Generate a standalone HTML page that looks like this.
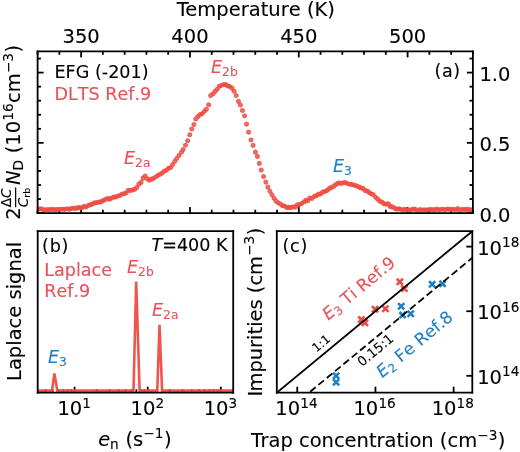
<!DOCTYPE html>
<html><head><meta charset="utf-8"><title>figure</title>
<style>html,body{margin:0;padding:0;background:#fff;width:520px;height:452px;overflow:hidden}svg{display:block}text{font-kerning:none;stroke:#000;stroke-width:0.08}</style>
</head><body>
<svg width="520" height="452" viewBox="0 0 374.4 325.44"> <defs> <style type="text/css">*{stroke-linejoin: round; stroke-linecap: butt}</style> </defs> <g id="figure_1"> <g id="patch_1"> <path d="M 0 325.44  L 374.4 325.44  L 374.4 0  L 0 0  z " style="fill: #ffffff"/> </g> <g id="axes_1"> <g id="patch_2"> <path d="M 27.072 153.432  L 340.488 153.432  L 340.488 37.008  L 27.072 37.008  z " style="fill: #ffffff"/> </g> <g id="matplotlib.axis_1"> <g id="xtick_1"> <g id="line2d_1"> <defs> <path id="mc10e1f5a09" d="M 0 0  L 0 -4.32  " style="stroke: #000000; stroke-width: 1.296"/> </defs> <g> <use href="#mc10e1f5a09" x="58.4136" y="153.432" style="stroke: #000000; stroke-width: 1.296"/> </g> </g> <g id="line2d_2"> <defs> <path id="m5bdeafda6d" d="M 0 0  L 0 4.32  " style="stroke: #000000; stroke-width: 1.296"/> </defs> <g> <use href="#m5bdeafda6d" x="58.4136" y="37.008" style="stroke: #000000; stroke-width: 1.296"/> </g> </g> <g id="text_1"> <text style="font-size: 14.04px; font-family: 'DejaVu Sans', 'Liberation Sans', sans-serif; text-anchor: middle" x="58.4136" y="31.092119" transform="rotate(-0 58.4136 31.092119)">350</text> </g> </g> <g id="xtick_2"> <g id="line2d_3"> <g> <use href="#mc10e1f5a09" x="136.7676" y="153.432" style="stroke: #000000; stroke-width: 1.296"/> </g> </g> <g id="line2d_4"> <g> <use href="#m5bdeafda6d" x="136.7676" y="37.008" style="stroke: #000000; stroke-width: 1.296"/> </g> </g> <g id="text_2"> <text style="font-size: 14.04px; font-family: 'DejaVu Sans', 'Liberation Sans', sans-serif; text-anchor: middle" x="136.7676" y="31.092119" transform="rotate(-0 136.7676 31.092119)">400</text> </g> </g> <g id="xtick_3"> <g id="line2d_5"> <g> <use href="#mc10e1f5a09" x="215.1216" y="153.432" style="stroke: #000000; stroke-width: 1.296"/> </g> </g> <g id="line2d_6"> <g> <use href="#m5bdeafda6d" x="215.1216" y="37.008" style="stroke: #000000; stroke-width: 1.296"/> </g> </g> <g id="text_3"> <text style="font-size: 14.04px; font-family: 'DejaVu Sans', 'Liberation Sans', sans-serif; text-anchor: middle" x="215.1216" y="31.092119" transform="rotate(-0 215.1216 31.092119)">450</text> </g> </g> <g id="xtick_4"> <g id="line2d_7"> <g> <use href="#mc10e1f5a09" x="293.4756" y="153.432" style="stroke: #000000; stroke-width: 1.296"/> </g> </g> <g id="line2d_8"> <g> <use href="#m5bdeafda6d" x="293.4756" y="37.008" style="stroke: #000000; stroke-width: 1.296"/> </g> </g> <g id="text_4"> <text style="font-size: 14.04px; font-family: 'DejaVu Sans', 'Liberation Sans', sans-serif; text-anchor: middle" x="293.4756" y="31.092119" transform="rotate(-0 293.4756 31.092119)">500</text> </g> </g> <g id="xtick_5"> <g id="line2d_9"> <defs> <path id="m43085beaf9" d="M 0 0  L 0 -2.448  " style="stroke: #000000; stroke-width: 1.296"/> </defs> <g> <use href="#m43085beaf9" x="27.072" y="153.432" style="stroke: #000000; stroke-width: 1.296"/> </g> </g> <g id="line2d_10"> <defs> <path id="m57a300a114" d="M 0 0  L 0 2.448  " style="stroke: #000000; stroke-width: 1.296"/> </defs> <g> <use href="#m57a300a114" x="27.072" y="37.008" style="stroke: #000000; stroke-width: 1.296"/> </g> </g> </g> <g id="xtick_6"> <g id="line2d_11"> <g> <use href="#m43085beaf9" x="42.7428" y="153.432" style="stroke: #000000; stroke-width: 1.296"/> </g> </g> <g id="line2d_12"> <g> <use href="#m57a300a114" x="42.7428" y="37.008" style="stroke: #000000; stroke-width: 1.296"/> </g> </g> </g> <g id="xtick_7"> <g id="line2d_13"> <g> <use href="#m43085beaf9" x="74.0844" y="153.432" style="stroke: #000000; stroke-width: 1.296"/> </g> </g> <g id="line2d_14"> <g> <use href="#m57a300a114" x="74.0844" y="37.008" style="stroke: #000000; stroke-width: 1.296"/> </g> </g> </g> <g id="xtick_8"> <g id="line2d_15"> <g> <use href="#m43085beaf9" x="89.7552" y="153.432" style="stroke: #000000; stroke-width: 1.296"/> </g> </g> <g id="line2d_16"> <g> <use href="#m57a300a114" x="89.7552" y="37.008" style="stroke: #000000; stroke-width: 1.296"/> </g> </g> </g> <g id="xtick_9"> <g id="line2d_17"> <g> <use href="#m43085beaf9" x="105.426" y="153.432" style="stroke: #000000; stroke-width: 1.296"/> </g> </g> <g id="line2d_18"> <g> <use href="#m57a300a114" x="105.426" y="37.008" style="stroke: #000000; stroke-width: 1.296"/> </g> </g> </g> <g id="xtick_10"> <g id="line2d_19"> <g> <use href="#m43085beaf9" x="121.0968" y="153.432" style="stroke: #000000; stroke-width: 1.296"/> </g> </g> <g id="line2d_20"> <g> <use href="#m57a300a114" x="121.0968" y="37.008" style="stroke: #000000; stroke-width: 1.296"/> </g> </g> </g> <g id="xtick_11"> <g id="line2d_21"> <g> <use href="#m43085beaf9" x="152.4384" y="153.432" style="stroke: #000000; stroke-width: 1.296"/> </g> </g> <g id="line2d_22"> <g> <use href="#m57a300a114" x="152.4384" y="37.008" style="stroke: #000000; stroke-width: 1.296"/> </g> </g> </g> <g id="xtick_12"> <g id="line2d_23"> <g> <use href="#m43085beaf9" x="168.1092" y="153.432" style="stroke: #000000; stroke-width: 1.296"/> </g> </g> <g id="line2d_24"> <g> <use href="#m57a300a114" x="168.1092" y="37.008" style="stroke: #000000; stroke-width: 1.296"/> </g> </g> </g> <g id="xtick_13"> <g id="line2d_25"> <g> <use href="#m43085beaf9" x="183.78" y="153.432" style="stroke: #000000; stroke-width: 1.296"/> </g> </g> <g id="line2d_26"> <g> <use href="#m57a300a114" x="183.78" y="37.008" style="stroke: #000000; stroke-width: 1.296"/> </g> </g> </g> <g id="xtick_14"> <g id="line2d_27"> <g> <use href="#m43085beaf9" x="199.4508" y="153.432" style="stroke: #000000; stroke-width: 1.296"/> </g> </g> <g id="line2d_28"> <g> <use href="#m57a300a114" x="199.4508" y="37.008" style="stroke: #000000; stroke-width: 1.296"/> </g> </g> </g> <g id="xtick_15"> <g id="line2d_29"> <g> <use href="#m43085beaf9" x="230.7924" y="153.432" style="stroke: #000000; stroke-width: 1.296"/> </g> </g> <g id="line2d_30"> <g> <use href="#m57a300a114" x="230.7924" y="37.008" style="stroke: #000000; stroke-width: 1.296"/> </g> </g> </g> <g id="xtick_16"> <g id="line2d_31"> <g> <use href="#m43085beaf9" x="246.4632" y="153.432" style="stroke: #000000; stroke-width: 1.296"/> </g> </g> <g id="line2d_32"> <g> <use href="#m57a300a114" x="246.4632" y="37.008" style="stroke: #000000; stroke-width: 1.296"/> </g> </g> </g> <g id="xtick_17"> <g id="line2d_33"> <g> <use href="#m43085beaf9" x="262.134" y="153.432" style="stroke: #000000; stroke-width: 1.296"/> </g> </g> <g id="line2d_34"> <g> <use href="#m57a300a114" x="262.134" y="37.008" style="stroke: #000000; stroke-width: 1.296"/> </g> </g> </g> <g id="xtick_18"> <g id="line2d_35"> <g> <use href="#m43085beaf9" x="277.8048" y="153.432" style="stroke: #000000; stroke-width: 1.296"/> </g> </g> <g id="line2d_36"> <g> <use href="#m57a300a114" x="277.8048" y="37.008" style="stroke: #000000; stroke-width: 1.296"/> </g> </g> </g> <g id="xtick_19"> <g id="line2d_37"> <g> <use href="#m43085beaf9" x="309.1464" y="153.432" style="stroke: #000000; stroke-width: 1.296"/> </g> </g> <g id="line2d_38"> <g> <use href="#m57a300a114" x="309.1464" y="37.008" style="stroke: #000000; stroke-width: 1.296"/> </g> </g> </g> <g id="xtick_20"> <g id="line2d_39"> <g> <use href="#m43085beaf9" x="324.8172" y="153.432" style="stroke: #000000; stroke-width: 1.296"/> </g> </g> <g id="line2d_40"> <g> <use href="#m57a300a114" x="324.8172" y="37.008" style="stroke: #000000; stroke-width: 1.296"/> </g> </g> </g> <g id="xtick_21"> <g id="line2d_41"> <g> <use href="#m43085beaf9" x="340.488" y="153.432" style="stroke: #000000; stroke-width: 1.296"/> </g> </g> <g id="line2d_42"> <g> <use href="#m57a300a114" x="340.488" y="37.008" style="stroke: #000000; stroke-width: 1.296"/> </g> </g> </g> </g> <g id="matplotlib.axis_2"> <g id="ytick_1"> <g id="line2d_43"> <defs> <path id="m8a6a76ca5c" d="M 0 0  L 4.32 0  " style="stroke: #000000; stroke-width: 1.296"/> </defs> <g> <use href="#m8a6a76ca5c" x="27.072" y="153.432" style="stroke: #000000; stroke-width: 1.296"/> </g> </g> <g id="line2d_44"> <defs> <path id="m3e80957352" d="M 0 0  L -4.32 0  " style="stroke: #000000; stroke-width: 1.296"/> </defs> <g> <use href="#m3e80957352" x="340.488" y="153.432" style="stroke: #000000; stroke-width: 1.296"/> </g> </g> <g id="text_5"> <text style="font-size: 14.04px; font-family: 'DejaVu Sans', 'Liberation Sans', sans-serif; text-anchor: start" x="345.212" y="159.486103" transform="rotate(-0 345.212 159.486103)">0.0</text> </g> </g> <g id="ytick_2"> <g id="line2d_45"> <g> <use href="#m8a6a76ca5c" x="27.072" y="102.852" style="stroke: #000000; stroke-width: 1.296"/> </g> </g> <g id="line2d_46"> <g> <use href="#m3e80957352" x="340.488" y="102.852" style="stroke: #000000; stroke-width: 1.296"/> </g> </g> <g id="text_6"> <text style="font-size: 14.04px; font-family: 'DejaVu Sans', 'Liberation Sans', sans-serif; text-anchor: start" x="345.212" y="108.906103" transform="rotate(-0 345.212 108.906103)">0.5</text> </g> </g> <g id="ytick_3"> <g id="line2d_47"> <g> <use href="#m8a6a76ca5c" x="27.072" y="52.272" style="stroke: #000000; stroke-width: 1.296"/> </g> </g> <g id="line2d_48"> <g> <use href="#m3e80957352" x="340.488" y="52.272" style="stroke: #000000; stroke-width: 1.296"/> </g> </g> <g id="text_7"> <text style="font-size: 14.04px; font-family: 'DejaVu Sans', 'Liberation Sans', sans-serif; text-anchor: start" x="345.212" y="58.326103" transform="rotate(-0 345.212 58.326103)">1.0</text> </g> </g> <g id="ytick_4"> <g id="line2d_49"> <defs> <path id="m8aa99f4df7" d="M 0 0  L 2.448 0  " style="stroke: #000000; stroke-width: 1.296"/> </defs> <g> <use href="#m8aa99f4df7" x="27.072" y="143.316" style="stroke: #000000; stroke-width: 1.296"/> </g> </g> <g id="line2d_50"> <defs> <path id="m9ff99c0e5c" d="M 0 0  L -2.448 0  " style="stroke: #000000; stroke-width: 1.296"/> </defs> <g> <use href="#m9ff99c0e5c" x="340.488" y="143.316" style="stroke: #000000; stroke-width: 1.296"/> </g> </g> </g> <g id="ytick_5"> <g id="line2d_51"> <g> <use href="#m8aa99f4df7" x="27.072" y="133.2" style="stroke: #000000; stroke-width: 1.296"/> </g> </g> <g id="line2d_52"> <g> <use href="#m9ff99c0e5c" x="340.488" y="133.2" style="stroke: #000000; stroke-width: 1.296"/> </g> </g> </g> <g id="ytick_6"> <g id="line2d_53"> <g> <use href="#m8aa99f4df7" x="27.072" y="123.084" style="stroke: #000000; stroke-width: 1.296"/> </g> </g> <g id="line2d_54"> <g> <use href="#m9ff99c0e5c" x="340.488" y="123.084" style="stroke: #000000; stroke-width: 1.296"/> </g> </g> </g> <g id="ytick_7"> <g id="line2d_55"> <g> <use href="#m8aa99f4df7" x="27.072" y="112.968" style="stroke: #000000; stroke-width: 1.296"/> </g> </g> <g id="line2d_56"> <g> <use href="#m9ff99c0e5c" x="340.488" y="112.968" style="stroke: #000000; stroke-width: 1.296"/> </g> </g> </g> <g id="ytick_8"> <g id="line2d_57"> <g> <use href="#m8aa99f4df7" x="27.072" y="92.736" style="stroke: #000000; stroke-width: 1.296"/> </g> </g> <g id="line2d_58"> <g> <use href="#m9ff99c0e5c" x="340.488" y="92.736" style="stroke: #000000; stroke-width: 1.296"/> </g> </g> </g> <g id="ytick_9"> <g id="line2d_59"> <g> <use href="#m8aa99f4df7" x="27.072" y="82.62" style="stroke: #000000; stroke-width: 1.296"/> </g> </g> <g id="line2d_60"> <g> <use href="#m9ff99c0e5c" x="340.488" y="82.62" style="stroke: #000000; stroke-width: 1.296"/> </g> </g> </g> <g id="ytick_10"> <g id="line2d_61"> <g> <use href="#m8aa99f4df7" x="27.072" y="72.504" style="stroke: #000000; stroke-width: 1.296"/> </g> </g> <g id="line2d_62"> <g> <use href="#m9ff99c0e5c" x="340.488" y="72.504" style="stroke: #000000; stroke-width: 1.296"/> </g> </g> </g> <g id="ytick_11"> <g id="line2d_63"> <g> <use href="#m8aa99f4df7" x="27.072" y="62.388" style="stroke: #000000; stroke-width: 1.296"/> </g> </g> <g id="line2d_64"> <g> <use href="#m9ff99c0e5c" x="340.488" y="62.388" style="stroke: #000000; stroke-width: 1.296"/> </g> </g> </g> <g id="ytick_12"> <g id="line2d_65"> <g> <use href="#m8aa99f4df7" x="27.072" y="42.156" style="stroke: #000000; stroke-width: 1.296"/> </g> </g> <g id="line2d_66"> <g> <use href="#m9ff99c0e5c" x="340.488" y="42.156" style="stroke: #000000; stroke-width: 1.296"/> </g> </g> </g> </g> <g id="line2d_67"> <defs> <path id="m4eb67e18cb" d="M 0 1.44  C 0.381892 1.44 0.748195 1.288273 1.018234 1.018234  C 1.288273 0.748195 1.44 0.381892 1.44 0  C 1.44 -0.381892 1.288273 -0.748195 1.018234 -1.018234  C 0.748195 -1.288273 0.381892 -1.44 0 -1.44  C -0.381892 -1.44 -0.748195 -1.288273 -1.018234 -1.018234  C -1.288273 -0.748195 -1.44 -0.381892 -1.44 0  C -1.44 0.381892 -1.288273 0.748195 -1.018234 1.018234  C -0.748195 1.288273 -0.381892 1.44 0 1.44  z " style="stroke: #ef4b42; stroke-opacity: 0.8; stroke-width: 0.792"/> </defs> <g clip-path="url(#pd31f650294)"> <use href="#m4eb67e18cb" x="27.129229" y="150.285194" style="fill: #ef4b42; fill-opacity: 0.8; stroke: #ef4b42; stroke-opacity: 0.8; stroke-width: 0.792"/> <use href="#m4eb67e18cb" x="28.708476" y="150.448566" style="fill: #ef4b42; fill-opacity: 0.8; stroke: #ef4b42; stroke-opacity: 0.8; stroke-width: 0.792"/> <use href="#m4eb67e18cb" x="30.071619" y="150.396785" style="fill: #ef4b42; fill-opacity: 0.8; stroke: #ef4b42; stroke-opacity: 0.8; stroke-width: 0.792"/> <use href="#m4eb67e18cb" x="31.674399" y="151.265736" style="fill: #ef4b42; fill-opacity: 0.8; stroke: #ef4b42; stroke-opacity: 0.8; stroke-width: 0.792"/> <use href="#m4eb67e18cb" x="33.338181" y="150.94333" style="fill: #ef4b42; fill-opacity: 0.8; stroke: #ef4b42; stroke-opacity: 0.8; stroke-width: 0.792"/> <use href="#m4eb67e18cb" x="34.859508" y="151.006448" style="fill: #ef4b42; fill-opacity: 0.8; stroke: #ef4b42; stroke-opacity: 0.8; stroke-width: 0.792"/> <use href="#m4eb67e18cb" x="36.089713" y="150.903627" style="fill: #ef4b42; fill-opacity: 0.8; stroke: #ef4b42; stroke-opacity: 0.8; stroke-width: 0.792"/> <use href="#m4eb67e18cb" x="37.640491" y="150.631808" style="fill: #ef4b42; fill-opacity: 0.8; stroke: #ef4b42; stroke-opacity: 0.8; stroke-width: 0.792"/> <use href="#m4eb67e18cb" x="39.101972" y="150.949137" style="fill: #ef4b42; fill-opacity: 0.8; stroke: #ef4b42; stroke-opacity: 0.8; stroke-width: 0.792"/> <use href="#m4eb67e18cb" x="40.768471" y="150.940226" style="fill: #ef4b42; fill-opacity: 0.8; stroke: #ef4b42; stroke-opacity: 0.8; stroke-width: 0.792"/> <use href="#m4eb67e18cb" x="42.133987" y="150.695387" style="fill: #ef4b42; fill-opacity: 0.8; stroke: #ef4b42; stroke-opacity: 0.8; stroke-width: 0.792"/> <use href="#m4eb67e18cb" x="43.814633" y="150.644712" style="fill: #ef4b42; fill-opacity: 0.8; stroke: #ef4b42; stroke-opacity: 0.8; stroke-width: 0.792"/> <use href="#m4eb67e18cb" x="45.407028" y="150.614247" style="fill: #ef4b42; fill-opacity: 0.8; stroke: #ef4b42; stroke-opacity: 0.8; stroke-width: 0.792"/> <use href="#m4eb67e18cb" x="46.787692" y="150.698926" style="fill: #ef4b42; fill-opacity: 0.8; stroke: #ef4b42; stroke-opacity: 0.8; stroke-width: 0.792"/> <use href="#m4eb67e18cb" x="48.45736" y="150.325407" style="fill: #ef4b42; fill-opacity: 0.8; stroke: #ef4b42; stroke-opacity: 0.8; stroke-width: 0.792"/> <use href="#m4eb67e18cb" x="49.945311" y="150.666284" style="fill: #ef4b42; fill-opacity: 0.8; stroke: #ef4b42; stroke-opacity: 0.8; stroke-width: 0.792"/> <use href="#m4eb67e18cb" x="51.252176" y="150.195418" style="fill: #ef4b42; fill-opacity: 0.8; stroke: #ef4b42; stroke-opacity: 0.8; stroke-width: 0.792"/> <use href="#m4eb67e18cb" x="52.973408" y="149.763791" style="fill: #ef4b42; fill-opacity: 0.8; stroke: #ef4b42; stroke-opacity: 0.8; stroke-width: 0.792"/> <use href="#m4eb67e18cb" x="54.380796" y="150.307322" style="fill: #ef4b42; fill-opacity: 0.8; stroke: #ef4b42; stroke-opacity: 0.8; stroke-width: 0.792"/> <use href="#m4eb67e18cb" x="55.959478" y="149.378374" style="fill: #ef4b42; fill-opacity: 0.8; stroke: #ef4b42; stroke-opacity: 0.8; stroke-width: 0.792"/> <use href="#m4eb67e18cb" x="57.43006" y="149.666694" style="fill: #ef4b42; fill-opacity: 0.8; stroke: #ef4b42; stroke-opacity: 0.8; stroke-width: 0.792"/> <use href="#m4eb67e18cb" x="59.104183" y="149.489992" style="fill: #ef4b42; fill-opacity: 0.8; stroke: #ef4b42; stroke-opacity: 0.8; stroke-width: 0.792"/> <use href="#m4eb67e18cb" x="60.529216" y="148.539192" style="fill: #ef4b42; fill-opacity: 0.8; stroke: #ef4b42; stroke-opacity: 0.8; stroke-width: 0.792"/> <use href="#m4eb67e18cb" x="61.942627" y="149.017338" style="fill: #ef4b42; fill-opacity: 0.8; stroke: #ef4b42; stroke-opacity: 0.8; stroke-width: 0.792"/> <use href="#m4eb67e18cb" x="63.608539" y="147.986303" style="fill: #ef4b42; fill-opacity: 0.8; stroke: #ef4b42; stroke-opacity: 0.8; stroke-width: 0.792"/> <use href="#m4eb67e18cb" x="65.21724" y="147.331831" style="fill: #ef4b42; fill-opacity: 0.8; stroke: #ef4b42; stroke-opacity: 0.8; stroke-width: 0.792"/> <use href="#m4eb67e18cb" x="66.559055" y="146.883785" style="fill: #ef4b42; fill-opacity: 0.8; stroke: #ef4b42; stroke-opacity: 0.8; stroke-width: 0.792"/> <use href="#m4eb67e18cb" x="68.047378" y="146.094054" style="fill: #ef4b42; fill-opacity: 0.8; stroke: #ef4b42; stroke-opacity: 0.8; stroke-width: 0.792"/> <use href="#m4eb67e18cb" x="69.629883" y="145.784583" style="fill: #ef4b42; fill-opacity: 0.8; stroke: #ef4b42; stroke-opacity: 0.8; stroke-width: 0.792"/> <use href="#m4eb67e18cb" x="71.356208" y="145.559092" style="fill: #ef4b42; fill-opacity: 0.8; stroke: #ef4b42; stroke-opacity: 0.8; stroke-width: 0.792"/> <use href="#m4eb67e18cb" x="72.891173" y="145.136428" style="fill: #ef4b42; fill-opacity: 0.8; stroke: #ef4b42; stroke-opacity: 0.8; stroke-width: 0.792"/> <use href="#m4eb67e18cb" x="74.297053" y="144.483955" style="fill: #ef4b42; fill-opacity: 0.8; stroke: #ef4b42; stroke-opacity: 0.8; stroke-width: 0.792"/> <use href="#m4eb67e18cb" x="75.903793" y="143.660115" style="fill: #ef4b42; fill-opacity: 0.8; stroke: #ef4b42; stroke-opacity: 0.8; stroke-width: 0.792"/> <use href="#m4eb67e18cb" x="77.402391" y="142.958198" style="fill: #ef4b42; fill-opacity: 0.8; stroke: #ef4b42; stroke-opacity: 0.8; stroke-width: 0.792"/> <use href="#m4eb67e18cb" x="78.746536" y="143.334873" style="fill: #ef4b42; fill-opacity: 0.8; stroke: #ef4b42; stroke-opacity: 0.8; stroke-width: 0.792"/> <use href="#m4eb67e18cb" x="80.159123" y="142.765681" style="fill: #ef4b42; fill-opacity: 0.8; stroke: #ef4b42; stroke-opacity: 0.8; stroke-width: 0.792"/> <use href="#m4eb67e18cb" x="81.890255" y="141.899208" style="fill: #ef4b42; fill-opacity: 0.8; stroke: #ef4b42; stroke-opacity: 0.8; stroke-width: 0.792"/> <use href="#m4eb67e18cb" x="83.374379" y="141.859473" style="fill: #ef4b42; fill-opacity: 0.8; stroke: #ef4b42; stroke-opacity: 0.8; stroke-width: 0.792"/> <use href="#m4eb67e18cb" x="84.820627" y="141.102708" style="fill: #ef4b42; fill-opacity: 0.8; stroke: #ef4b42; stroke-opacity: 0.8; stroke-width: 0.792"/> <use href="#m4eb67e18cb" x="86.289354" y="140.743441" style="fill: #ef4b42; fill-opacity: 0.8; stroke: #ef4b42; stroke-opacity: 0.8; stroke-width: 0.792"/> <use href="#m4eb67e18cb" x="87.87767" y="139.648674" style="fill: #ef4b42; fill-opacity: 0.8; stroke: #ef4b42; stroke-opacity: 0.8; stroke-width: 0.792"/> <use href="#m4eb67e18cb" x="89.421214" y="139.550589" style="fill: #ef4b42; fill-opacity: 0.8; stroke: #ef4b42; stroke-opacity: 0.8; stroke-width: 0.792"/> <use href="#m4eb67e18cb" x="90.866173" y="138.759408" style="fill: #ef4b42; fill-opacity: 0.8; stroke: #ef4b42; stroke-opacity: 0.8; stroke-width: 0.792"/> <use href="#m4eb67e18cb" x="92.394724" y="136.981511" style="fill: #ef4b42; fill-opacity: 0.8; stroke: #ef4b42; stroke-opacity: 0.8; stroke-width: 0.792"/> <use href="#m4eb67e18cb" x="93.977184" y="137.177129" style="fill: #ef4b42; fill-opacity: 0.8; stroke: #ef4b42; stroke-opacity: 0.8; stroke-width: 0.792"/> <use href="#m4eb67e18cb" x="95.648763" y="136.70366" style="fill: #ef4b42; fill-opacity: 0.8; stroke: #ef4b42; stroke-opacity: 0.8; stroke-width: 0.792"/> <use href="#m4eb67e18cb" x="97.065673" y="136.280139" style="fill: #ef4b42; fill-opacity: 0.8; stroke: #ef4b42; stroke-opacity: 0.8; stroke-width: 0.792"/> <use href="#m4eb67e18cb" x="98.471871" y="135.01415" style="fill: #ef4b42; fill-opacity: 0.8; stroke: #ef4b42; stroke-opacity: 0.8; stroke-width: 0.792"/> <use href="#m4eb67e18cb" x="99.989866" y="132.561883" style="fill: #ef4b42; fill-opacity: 0.8; stroke: #ef4b42; stroke-opacity: 0.8; stroke-width: 0.792"/> <use href="#m4eb67e18cb" x="101.57637" y="131.276888" style="fill: #ef4b42; fill-opacity: 0.8; stroke: #ef4b42; stroke-opacity: 0.8; stroke-width: 0.792"/> <use href="#m4eb67e18cb" x="103.002709" y="128.227671" style="fill: #ef4b42; fill-opacity: 0.8; stroke: #ef4b42; stroke-opacity: 0.8; stroke-width: 0.792"/> <use href="#m4eb67e18cb" x="104.52126" y="126.669124" style="fill: #ef4b42; fill-opacity: 0.8; stroke: #ef4b42; stroke-opacity: 0.8; stroke-width: 0.792"/> <use href="#m4eb67e18cb" x="106.158918" y="128.778474" style="fill: #ef4b42; fill-opacity: 0.8; stroke: #ef4b42; stroke-opacity: 0.8; stroke-width: 0.792"/> <use href="#m4eb67e18cb" x="107.518464" y="129.821111" style="fill: #ef4b42; fill-opacity: 0.8; stroke: #ef4b42; stroke-opacity: 0.8; stroke-width: 0.792"/> <use href="#m4eb67e18cb" x="109.187601" y="128.9655" style="fill: #ef4b42; fill-opacity: 0.8; stroke: #ef4b42; stroke-opacity: 0.8; stroke-width: 0.792"/> <use href="#m4eb67e18cb" x="110.662007" y="128.295976" style="fill: #ef4b42; fill-opacity: 0.8; stroke: #ef4b42; stroke-opacity: 0.8; stroke-width: 0.792"/> <use href="#m4eb67e18cb" x="112.31202" y="127.291281" style="fill: #ef4b42; fill-opacity: 0.8; stroke: #ef4b42; stroke-opacity: 0.8; stroke-width: 0.792"/> <use href="#m4eb67e18cb" x="113.846778" y="126.136397" style="fill: #ef4b42; fill-opacity: 0.8; stroke: #ef4b42; stroke-opacity: 0.8; stroke-width: 0.792"/> <use href="#m4eb67e18cb" x="115.345915" y="125.424165" style="fill: #ef4b42; fill-opacity: 0.8; stroke: #ef4b42; stroke-opacity: 0.8; stroke-width: 0.792"/> <use href="#m4eb67e18cb" x="116.865263" y="124.568225" style="fill: #ef4b42; fill-opacity: 0.8; stroke: #ef4b42; stroke-opacity: 0.8; stroke-width: 0.792"/> <use href="#m4eb67e18cb" x="118.266641" y="123.089244" style="fill: #ef4b42; fill-opacity: 0.8; stroke: #ef4b42; stroke-opacity: 0.8; stroke-width: 0.792"/> <use href="#m4eb67e18cb" x="119.897483" y="122.531538" style="fill: #ef4b42; fill-opacity: 0.8; stroke: #ef4b42; stroke-opacity: 0.8; stroke-width: 0.792"/> <use href="#m4eb67e18cb" x="121.294082" y="121.165209" style="fill: #ef4b42; fill-opacity: 0.8; stroke: #ef4b42; stroke-opacity: 0.8; stroke-width: 0.792"/> <use href="#m4eb67e18cb" x="122.901761" y="120.649012" style="fill: #ef4b42; fill-opacity: 0.8; stroke: #ef4b42; stroke-opacity: 0.8; stroke-width: 0.792"/> <use href="#m4eb67e18cb" x="124.328937" y="118.416134" style="fill: #ef4b42; fill-opacity: 0.8; stroke: #ef4b42; stroke-opacity: 0.8; stroke-width: 0.792"/> <use href="#m4eb67e18cb" x="125.893887" y="116.131543" style="fill: #ef4b42; fill-opacity: 0.8; stroke: #ef4b42; stroke-opacity: 0.8; stroke-width: 0.792"/> <use href="#m4eb67e18cb" x="127.269677" y="114.07803" style="fill: #ef4b42; fill-opacity: 0.8; stroke: #ef4b42; stroke-opacity: 0.8; stroke-width: 0.792"/> <use href="#m4eb67e18cb" x="128.857874" y="111.920252" style="fill: #ef4b42; fill-opacity: 0.8; stroke: #ef4b42; stroke-opacity: 0.8; stroke-width: 0.792"/> <use href="#m4eb67e18cb" x="130.65209" y="109.589524" style="fill: #ef4b42; fill-opacity: 0.8; stroke: #ef4b42; stroke-opacity: 0.8; stroke-width: 0.792"/> <use href="#m4eb67e18cb" x="131.893461" y="107.678395" style="fill: #ef4b42; fill-opacity: 0.8; stroke: #ef4b42; stroke-opacity: 0.8; stroke-width: 0.792"/> <use href="#m4eb67e18cb" x="133.586871" y="104.530436" style="fill: #ef4b42; fill-opacity: 0.8; stroke: #ef4b42; stroke-opacity: 0.8; stroke-width: 0.792"/> <use href="#m4eb67e18cb" x="135.091518" y="101.33611" style="fill: #ef4b42; fill-opacity: 0.8; stroke: #ef4b42; stroke-opacity: 0.8; stroke-width: 0.792"/> <use href="#m4eb67e18cb" x="136.639215" y="97.013054" style="fill: #ef4b42; fill-opacity: 0.8; stroke: #ef4b42; stroke-opacity: 0.8; stroke-width: 0.792"/> <use href="#m4eb67e18cb" x="138.06569" y="92.842353" style="fill: #ef4b42; fill-opacity: 0.8; stroke: #ef4b42; stroke-opacity: 0.8; stroke-width: 0.792"/> <use href="#m4eb67e18cb" x="139.631482" y="89.624309" style="fill: #ef4b42; fill-opacity: 0.8; stroke: #ef4b42; stroke-opacity: 0.8; stroke-width: 0.792"/> <use href="#m4eb67e18cb" x="140.952332" y="85.731355" style="fill: #ef4b42; fill-opacity: 0.8; stroke: #ef4b42; stroke-opacity: 0.8; stroke-width: 0.792"/> <use href="#m4eb67e18cb" x="142.474503" y="83.937824" style="fill: #ef4b42; fill-opacity: 0.8; stroke: #ef4b42; stroke-opacity: 0.8; stroke-width: 0.792"/> <use href="#m4eb67e18cb" x="144.042114" y="82.447088" style="fill: #ef4b42; fill-opacity: 0.8; stroke: #ef4b42; stroke-opacity: 0.8; stroke-width: 0.792"/> <use href="#m4eb67e18cb" x="145.544462" y="81.927988" style="fill: #ef4b42; fill-opacity: 0.8; stroke: #ef4b42; stroke-opacity: 0.8; stroke-width: 0.792"/> <use href="#m4eb67e18cb" x="147.045064" y="80.240512" style="fill: #ef4b42; fill-opacity: 0.8; stroke: #ef4b42; stroke-opacity: 0.8; stroke-width: 0.792"/> <use href="#m4eb67e18cb" x="148.57611" y="78.729845" style="fill: #ef4b42; fill-opacity: 0.8; stroke: #ef4b42; stroke-opacity: 0.8; stroke-width: 0.792"/> <use href="#m4eb67e18cb" x="150.255637" y="75.408772" style="fill: #ef4b42; fill-opacity: 0.8; stroke: #ef4b42; stroke-opacity: 0.8; stroke-width: 0.792"/> <use href="#m4eb67e18cb" x="151.638255" y="68.799875" style="fill: #ef4b42; fill-opacity: 0.8; stroke: #ef4b42; stroke-opacity: 0.8; stroke-width: 0.792"/> <use href="#m4eb67e18cb" x="153.44577" y="67.504935" style="fill: #ef4b42; fill-opacity: 0.8; stroke: #ef4b42; stroke-opacity: 0.8; stroke-width: 0.792"/> <use href="#m4eb67e18cb" x="154.864106" y="65.792034" style="fill: #ef4b42; fill-opacity: 0.8; stroke: #ef4b42; stroke-opacity: 0.8; stroke-width: 0.792"/> <use href="#m4eb67e18cb" x="156.331297" y="64.245255" style="fill: #ef4b42; fill-opacity: 0.8; stroke: #ef4b42; stroke-opacity: 0.8; stroke-width: 0.792"/> <use href="#m4eb67e18cb" x="157.913858" y="62.108679" style="fill: #ef4b42; fill-opacity: 0.8; stroke: #ef4b42; stroke-opacity: 0.8; stroke-width: 0.792"/> <use href="#m4eb67e18cb" x="159.267203" y="61.572377" style="fill: #ef4b42; fill-opacity: 0.8; stroke: #ef4b42; stroke-opacity: 0.8; stroke-width: 0.792"/> <use href="#m4eb67e18cb" x="161.036564" y="60.805888" style="fill: #ef4b42; fill-opacity: 0.8; stroke: #ef4b42; stroke-opacity: 0.8; stroke-width: 0.792"/> <use href="#m4eb67e18cb" x="162.523711" y="60.952709" style="fill: #ef4b42; fill-opacity: 0.8; stroke: #ef4b42; stroke-opacity: 0.8; stroke-width: 0.792"/> <use href="#m4eb67e18cb" x="164.001327" y="61.948371" style="fill: #ef4b42; fill-opacity: 0.8; stroke: #ef4b42; stroke-opacity: 0.8; stroke-width: 0.792"/> <use href="#m4eb67e18cb" x="165.428844" y="62.329823" style="fill: #ef4b42; fill-opacity: 0.8; stroke: #ef4b42; stroke-opacity: 0.8; stroke-width: 0.792"/> <use href="#m4eb67e18cb" x="167.085008" y="63.463103" style="fill: #ef4b42; fill-opacity: 0.8; stroke: #ef4b42; stroke-opacity: 0.8; stroke-width: 0.792"/> <use href="#m4eb67e18cb" x="168.568462" y="65.692913" style="fill: #ef4b42; fill-opacity: 0.8; stroke: #ef4b42; stroke-opacity: 0.8; stroke-width: 0.792"/> <use href="#m4eb67e18cb" x="170.056777" y="68.725654" style="fill: #ef4b42; fill-opacity: 0.8; stroke: #ef4b42; stroke-opacity: 0.8; stroke-width: 0.792"/> <use href="#m4eb67e18cb" x="171.672242" y="72.991724" style="fill: #ef4b42; fill-opacity: 0.8; stroke: #ef4b42; stroke-opacity: 0.8; stroke-width: 0.792"/> <use href="#m4eb67e18cb" x="173.086885" y="75.649643" style="fill: #ef4b42; fill-opacity: 0.8; stroke: #ef4b42; stroke-opacity: 0.8; stroke-width: 0.792"/> <use href="#m4eb67e18cb" x="174.506262" y="79.56504" style="fill: #ef4b42; fill-opacity: 0.8; stroke: #ef4b42; stroke-opacity: 0.8; stroke-width: 0.792"/> <use href="#m4eb67e18cb" x="176.096624" y="83.405844" style="fill: #ef4b42; fill-opacity: 0.8; stroke: #ef4b42; stroke-opacity: 0.8; stroke-width: 0.792"/> <use href="#m4eb67e18cb" x="177.482625" y="89.393737" style="fill: #ef4b42; fill-opacity: 0.8; stroke: #ef4b42; stroke-opacity: 0.8; stroke-width: 0.792"/> <use href="#m4eb67e18cb" x="179.001073" y="95.10168" style="fill: #ef4b42; fill-opacity: 0.8; stroke: #ef4b42; stroke-opacity: 0.8; stroke-width: 0.792"/> <use href="#m4eb67e18cb" x="180.721826" y="100.75548" style="fill: #ef4b42; fill-opacity: 0.8; stroke: #ef4b42; stroke-opacity: 0.8; stroke-width: 0.792"/> <use href="#m4eb67e18cb" x="182.264184" y="104.680057" style="fill: #ef4b42; fill-opacity: 0.8; stroke: #ef4b42; stroke-opacity: 0.8; stroke-width: 0.792"/> <use href="#m4eb67e18cb" x="183.854643" y="109.527425" style="fill: #ef4b42; fill-opacity: 0.8; stroke: #ef4b42; stroke-opacity: 0.8; stroke-width: 0.792"/> <use href="#m4eb67e18cb" x="185.329154" y="112.62467" style="fill: #ef4b42; fill-opacity: 0.8; stroke: #ef4b42; stroke-opacity: 0.8; stroke-width: 0.792"/> <use href="#m4eb67e18cb" x="186.733618" y="117.610362" style="fill: #ef4b42; fill-opacity: 0.8; stroke: #ef4b42; stroke-opacity: 0.8; stroke-width: 0.792"/> <use href="#m4eb67e18cb" x="188.08301" y="122.392526" style="fill: #ef4b42; fill-opacity: 0.8; stroke: #ef4b42; stroke-opacity: 0.8; stroke-width: 0.792"/> <use href="#m4eb67e18cb" x="189.753172" y="127.11712" style="fill: #ef4b42; fill-opacity: 0.8; stroke: #ef4b42; stroke-opacity: 0.8; stroke-width: 0.792"/> <use href="#m4eb67e18cb" x="191.438371" y="131.163831" style="fill: #ef4b42; fill-opacity: 0.8; stroke: #ef4b42; stroke-opacity: 0.8; stroke-width: 0.792"/> <use href="#m4eb67e18cb" x="192.905665" y="134.748633" style="fill: #ef4b42; fill-opacity: 0.8; stroke: #ef4b42; stroke-opacity: 0.8; stroke-width: 0.792"/> <use href="#m4eb67e18cb" x="194.311954" y="137.649284" style="fill: #ef4b42; fill-opacity: 0.8; stroke: #ef4b42; stroke-opacity: 0.8; stroke-width: 0.792"/> <use href="#m4eb67e18cb" x="195.820808" y="140.249857" style="fill: #ef4b42; fill-opacity: 0.8; stroke: #ef4b42; stroke-opacity: 0.8; stroke-width: 0.792"/> <use href="#m4eb67e18cb" x="197.25163" y="142.72729" style="fill: #ef4b42; fill-opacity: 0.8; stroke: #ef4b42; stroke-opacity: 0.8; stroke-width: 0.792"/> <use href="#m4eb67e18cb" x="198.756363" y="144.799736" style="fill: #ef4b42; fill-opacity: 0.8; stroke: #ef4b42; stroke-opacity: 0.8; stroke-width: 0.792"/> <use href="#m4eb67e18cb" x="200.237471" y="145.978735" style="fill: #ef4b42; fill-opacity: 0.8; stroke: #ef4b42; stroke-opacity: 0.8; stroke-width: 0.792"/> <use href="#m4eb67e18cb" x="202.065477" y="146.982946" style="fill: #ef4b42; fill-opacity: 0.8; stroke: #ef4b42; stroke-opacity: 0.8; stroke-width: 0.792"/> <use href="#m4eb67e18cb" x="203.490686" y="148.170934" style="fill: #ef4b42; fill-opacity: 0.8; stroke: #ef4b42; stroke-opacity: 0.8; stroke-width: 0.792"/> <use href="#m4eb67e18cb" x="204.823891" y="148.302818" style="fill: #ef4b42; fill-opacity: 0.8; stroke: #ef4b42; stroke-opacity: 0.8; stroke-width: 0.792"/> <use href="#m4eb67e18cb" x="206.445804" y="149.338245" style="fill: #ef4b42; fill-opacity: 0.8; stroke: #ef4b42; stroke-opacity: 0.8; stroke-width: 0.792"/> <use href="#m4eb67e18cb" x="207.828589" y="149.317606" style="fill: #ef4b42; fill-opacity: 0.8; stroke: #ef4b42; stroke-opacity: 0.8; stroke-width: 0.792"/> <use href="#m4eb67e18cb" x="209.408932" y="149.506973" style="fill: #ef4b42; fill-opacity: 0.8; stroke: #ef4b42; stroke-opacity: 0.8; stroke-width: 0.792"/> <use href="#m4eb67e18cb" x="211.125073" y="148.911423" style="fill: #ef4b42; fill-opacity: 0.8; stroke: #ef4b42; stroke-opacity: 0.8; stroke-width: 0.792"/> <use href="#m4eb67e18cb" x="212.615208" y="149.165597" style="fill: #ef4b42; fill-opacity: 0.8; stroke: #ef4b42; stroke-opacity: 0.8; stroke-width: 0.792"/> <use href="#m4eb67e18cb" x="214.070533" y="147.513542" style="fill: #ef4b42; fill-opacity: 0.8; stroke: #ef4b42; stroke-opacity: 0.8; stroke-width: 0.792"/> <use href="#m4eb67e18cb" x="215.513802" y="147.337751" style="fill: #ef4b42; fill-opacity: 0.8; stroke: #ef4b42; stroke-opacity: 0.8; stroke-width: 0.792"/> <use href="#m4eb67e18cb" x="217.175825" y="146.54657" style="fill: #ef4b42; fill-opacity: 0.8; stroke: #ef4b42; stroke-opacity: 0.8; stroke-width: 0.792"/> <use href="#m4eb67e18cb" x="218.810312" y="145.482628" style="fill: #ef4b42; fill-opacity: 0.8; stroke: #ef4b42; stroke-opacity: 0.8; stroke-width: 0.792"/> <use href="#m4eb67e18cb" x="220.134459" y="144.266497" style="fill: #ef4b42; fill-opacity: 0.8; stroke: #ef4b42; stroke-opacity: 0.8; stroke-width: 0.792"/> <use href="#m4eb67e18cb" x="221.517104" y="144.630076" style="fill: #ef4b42; fill-opacity: 0.8; stroke: #ef4b42; stroke-opacity: 0.8; stroke-width: 0.792"/> <use href="#m4eb67e18cb" x="223.032508" y="142.515125" style="fill: #ef4b42; fill-opacity: 0.8; stroke: #ef4b42; stroke-opacity: 0.8; stroke-width: 0.792"/> <use href="#m4eb67e18cb" x="224.56203" y="142.800484" style="fill: #ef4b42; fill-opacity: 0.8; stroke: #ef4b42; stroke-opacity: 0.8; stroke-width: 0.792"/> <use href="#m4eb67e18cb" x="226.411875" y="141.396195" style="fill: #ef4b42; fill-opacity: 0.8; stroke: #ef4b42; stroke-opacity: 0.8; stroke-width: 0.792"/> <use href="#m4eb67e18cb" x="227.774377" y="140.864266" style="fill: #ef4b42; fill-opacity: 0.8; stroke: #ef4b42; stroke-opacity: 0.8; stroke-width: 0.792"/> <use href="#m4eb67e18cb" x="229.406034" y="139.746126" style="fill: #ef4b42; fill-opacity: 0.8; stroke: #ef4b42; stroke-opacity: 0.8; stroke-width: 0.792"/> <use href="#m4eb67e18cb" x="230.675082" y="139.688134" style="fill: #ef4b42; fill-opacity: 0.8; stroke: #ef4b42; stroke-opacity: 0.8; stroke-width: 0.792"/> <use href="#m4eb67e18cb" x="232.229116" y="138.323795" style="fill: #ef4b42; fill-opacity: 0.8; stroke: #ef4b42; stroke-opacity: 0.8; stroke-width: 0.792"/> <use href="#m4eb67e18cb" x="233.91152" y="137.910367" style="fill: #ef4b42; fill-opacity: 0.8; stroke: #ef4b42; stroke-opacity: 0.8; stroke-width: 0.792"/> <use href="#m4eb67e18cb" x="235.508159" y="137.040874" style="fill: #ef4b42; fill-opacity: 0.8; stroke: #ef4b42; stroke-opacity: 0.8; stroke-width: 0.792"/> <use href="#m4eb67e18cb" x="236.819536" y="135.976411" style="fill: #ef4b42; fill-opacity: 0.8; stroke: #ef4b42; stroke-opacity: 0.8; stroke-width: 0.792"/> <use href="#m4eb67e18cb" x="238.235794" y="135.114168" style="fill: #ef4b42; fill-opacity: 0.8; stroke: #ef4b42; stroke-opacity: 0.8; stroke-width: 0.792"/> <use href="#m4eb67e18cb" x="240.056533" y="134.387102" style="fill: #ef4b42; fill-opacity: 0.8; stroke: #ef4b42; stroke-opacity: 0.8; stroke-width: 0.792"/> <use href="#m4eb67e18cb" x="241.361003" y="133.198382" style="fill: #ef4b42; fill-opacity: 0.8; stroke: #ef4b42; stroke-opacity: 0.8; stroke-width: 0.792"/> <use href="#m4eb67e18cb" x="243.050394" y="132.061187" style="fill: #ef4b42; fill-opacity: 0.8; stroke: #ef4b42; stroke-opacity: 0.8; stroke-width: 0.792"/> <use href="#m4eb67e18cb" x="244.351178" y="131.735622" style="fill: #ef4b42; fill-opacity: 0.8; stroke: #ef4b42; stroke-opacity: 0.8; stroke-width: 0.792"/> <use href="#m4eb67e18cb" x="246.073184" y="132.093152" style="fill: #ef4b42; fill-opacity: 0.8; stroke: #ef4b42; stroke-opacity: 0.8; stroke-width: 0.792"/> <use href="#m4eb67e18cb" x="247.648334" y="131.391223" style="fill: #ef4b42; fill-opacity: 0.8; stroke: #ef4b42; stroke-opacity: 0.8; stroke-width: 0.792"/> <use href="#m4eb67e18cb" x="249.125425" y="131.535331" style="fill: #ef4b42; fill-opacity: 0.8; stroke: #ef4b42; stroke-opacity: 0.8; stroke-width: 0.792"/> <use href="#m4eb67e18cb" x="250.507072" y="132.304482" style="fill: #ef4b42; fill-opacity: 0.8; stroke: #ef4b42; stroke-opacity: 0.8; stroke-width: 0.792"/> <use href="#m4eb67e18cb" x="252.165387" y="132.692833" style="fill: #ef4b42; fill-opacity: 0.8; stroke: #ef4b42; stroke-opacity: 0.8; stroke-width: 0.792"/> <use href="#m4eb67e18cb" x="253.4646" y="132.817024" style="fill: #ef4b42; fill-opacity: 0.8; stroke: #ef4b42; stroke-opacity: 0.8; stroke-width: 0.792"/> <use href="#m4eb67e18cb" x="255.050242" y="133.387467" style="fill: #ef4b42; fill-opacity: 0.8; stroke: #ef4b42; stroke-opacity: 0.8; stroke-width: 0.792"/> <use href="#m4eb67e18cb" x="256.610087" y="133.724829" style="fill: #ef4b42; fill-opacity: 0.8; stroke: #ef4b42; stroke-opacity: 0.8; stroke-width: 0.792"/> <use href="#m4eb67e18cb" x="258.302268" y="134.57339" style="fill: #ef4b42; fill-opacity: 0.8; stroke: #ef4b42; stroke-opacity: 0.8; stroke-width: 0.792"/> <use href="#m4eb67e18cb" x="259.550239" y="135.262573" style="fill: #ef4b42; fill-opacity: 0.8; stroke: #ef4b42; stroke-opacity: 0.8; stroke-width: 0.792"/> <use href="#m4eb67e18cb" x="261.343499" y="135.64419" style="fill: #ef4b42; fill-opacity: 0.8; stroke: #ef4b42; stroke-opacity: 0.8; stroke-width: 0.792"/> <use href="#m4eb67e18cb" x="262.833042" y="137.096693" style="fill: #ef4b42; fill-opacity: 0.8; stroke: #ef4b42; stroke-opacity: 0.8; stroke-width: 0.792"/> <use href="#m4eb67e18cb" x="264.418047" y="137.551854" style="fill: #ef4b42; fill-opacity: 0.8; stroke: #ef4b42; stroke-opacity: 0.8; stroke-width: 0.792"/> <use href="#m4eb67e18cb" x="265.71098" y="138.585847" style="fill: #ef4b42; fill-opacity: 0.8; stroke: #ef4b42; stroke-opacity: 0.8; stroke-width: 0.792"/> <use href="#m4eb67e18cb" x="267.169833" y="139.496182" style="fill: #ef4b42; fill-opacity: 0.8; stroke: #ef4b42; stroke-opacity: 0.8; stroke-width: 0.792"/> <use href="#m4eb67e18cb" x="268.703301" y="140.017383" style="fill: #ef4b42; fill-opacity: 0.8; stroke: #ef4b42; stroke-opacity: 0.8; stroke-width: 0.792"/> <use href="#m4eb67e18cb" x="270.444249" y="142.02334" style="fill: #ef4b42; fill-opacity: 0.8; stroke: #ef4b42; stroke-opacity: 0.8; stroke-width: 0.792"/> <use href="#m4eb67e18cb" x="272.01598" y="143.401404" style="fill: #ef4b42; fill-opacity: 0.8; stroke: #ef4b42; stroke-opacity: 0.8; stroke-width: 0.792"/> <use href="#m4eb67e18cb" x="273.435847" y="144.866107" style="fill: #ef4b42; fill-opacity: 0.8; stroke: #ef4b42; stroke-opacity: 0.8; stroke-width: 0.792"/> <use href="#m4eb67e18cb" x="274.87456" y="145.387007" style="fill: #ef4b42; fill-opacity: 0.8; stroke: #ef4b42; stroke-opacity: 0.8; stroke-width: 0.792"/> <use href="#m4eb67e18cb" x="276.32112" y="146.631506" style="fill: #ef4b42; fill-opacity: 0.8; stroke: #ef4b42; stroke-opacity: 0.8; stroke-width: 0.792"/> <use href="#m4eb67e18cb" x="278.046778" y="146.975721" style="fill: #ef4b42; fill-opacity: 0.8; stroke: #ef4b42; stroke-opacity: 0.8; stroke-width: 0.792"/> <use href="#m4eb67e18cb" x="279.581322" y="146.742887" style="fill: #ef4b42; fill-opacity: 0.8; stroke: #ef4b42; stroke-opacity: 0.8; stroke-width: 0.792"/> <use href="#m4eb67e18cb" x="280.808014" y="148.59523" style="fill: #ef4b42; fill-opacity: 0.8; stroke: #ef4b42; stroke-opacity: 0.8; stroke-width: 0.792"/> <use href="#m4eb67e18cb" x="282.37465" y="148.925693" style="fill: #ef4b42; fill-opacity: 0.8; stroke: #ef4b42; stroke-opacity: 0.8; stroke-width: 0.792"/> <use href="#m4eb67e18cb" x="284.126323" y="149.844495" style="fill: #ef4b42; fill-opacity: 0.8; stroke: #ef4b42; stroke-opacity: 0.8; stroke-width: 0.792"/> <use href="#m4eb67e18cb" x="285.652613" y="150.663012" style="fill: #ef4b42; fill-opacity: 0.8; stroke: #ef4b42; stroke-opacity: 0.8; stroke-width: 0.792"/> <use href="#m4eb67e18cb" x="286.971975" y="150.299485" style="fill: #ef4b42; fill-opacity: 0.8; stroke: #ef4b42; stroke-opacity: 0.8; stroke-width: 0.792"/> <use href="#m4eb67e18cb" x="288.478744" y="150.688806" style="fill: #ef4b42; fill-opacity: 0.8; stroke: #ef4b42; stroke-opacity: 0.8; stroke-width: 0.792"/> <use href="#m4eb67e18cb" x="290.055798" y="151.093934" style="fill: #ef4b42; fill-opacity: 0.8; stroke: #ef4b42; stroke-opacity: 0.8; stroke-width: 0.792"/> <use href="#m4eb67e18cb" x="291.616722" y="150.649103" style="fill: #ef4b42; fill-opacity: 0.8; stroke: #ef4b42; stroke-opacity: 0.8; stroke-width: 0.792"/> <use href="#m4eb67e18cb" x="292.969847" y="151.290553" style="fill: #ef4b42; fill-opacity: 0.8; stroke: #ef4b42; stroke-opacity: 0.8; stroke-width: 0.792"/> <use href="#m4eb67e18cb" x="294.768734" y="151.617748" style="fill: #ef4b42; fill-opacity: 0.8; stroke: #ef4b42; stroke-opacity: 0.8; stroke-width: 0.792"/> <use href="#m4eb67e18cb" x="296.175153" y="150.914079" style="fill: #ef4b42; fill-opacity: 0.8; stroke: #ef4b42; stroke-opacity: 0.8; stroke-width: 0.792"/> <use href="#m4eb67e18cb" x="297.785572" y="150.599289" style="fill: #ef4b42; fill-opacity: 0.8; stroke: #ef4b42; stroke-opacity: 0.8; stroke-width: 0.792"/> <use href="#m4eb67e18cb" x="299.100992" y="150.752891" style="fill: #ef4b42; fill-opacity: 0.8; stroke: #ef4b42; stroke-opacity: 0.8; stroke-width: 0.792"/> <use href="#m4eb67e18cb" x="300.897288" y="151.688252" style="fill: #ef4b42; fill-opacity: 0.8; stroke: #ef4b42; stroke-opacity: 0.8; stroke-width: 0.792"/> <use href="#m4eb67e18cb" x="302.336771" y="150.932472" style="fill: #ef4b42; fill-opacity: 0.8; stroke: #ef4b42; stroke-opacity: 0.8; stroke-width: 0.792"/> <use href="#m4eb67e18cb" x="303.703415" y="151.278137" style="fill: #ef4b42; fill-opacity: 0.8; stroke: #ef4b42; stroke-opacity: 0.8; stroke-width: 0.792"/> <use href="#m4eb67e18cb" x="305.451186" y="151.031375" style="fill: #ef4b42; fill-opacity: 0.8; stroke: #ef4b42; stroke-opacity: 0.8; stroke-width: 0.792"/> <use href="#m4eb67e18cb" x="306.877975" y="151.213404" style="fill: #ef4b42; fill-opacity: 0.8; stroke: #ef4b42; stroke-opacity: 0.8; stroke-width: 0.792"/> <use href="#m4eb67e18cb" x="308.450715" y="151.092226" style="fill: #ef4b42; fill-opacity: 0.8; stroke: #ef4b42; stroke-opacity: 0.8; stroke-width: 0.792"/> <use href="#m4eb67e18cb" x="309.67176" y="150.848211" style="fill: #ef4b42; fill-opacity: 0.8; stroke: #ef4b42; stroke-opacity: 0.8; stroke-width: 0.792"/> <use href="#m4eb67e18cb" x="311.195642" y="150.876303" style="fill: #ef4b42; fill-opacity: 0.8; stroke: #ef4b42; stroke-opacity: 0.8; stroke-width: 0.792"/> <use href="#m4eb67e18cb" x="312.974126" y="151.113634" style="fill: #ef4b42; fill-opacity: 0.8; stroke: #ef4b42; stroke-opacity: 0.8; stroke-width: 0.792"/> <use href="#m4eb67e18cb" x="314.329443" y="150.459711" style="fill: #ef4b42; fill-opacity: 0.8; stroke: #ef4b42; stroke-opacity: 0.8; stroke-width: 0.792"/> <use href="#m4eb67e18cb" x="315.929281" y="151.046416" style="fill: #ef4b42; fill-opacity: 0.8; stroke: #ef4b42; stroke-opacity: 0.8; stroke-width: 0.792"/> <use href="#m4eb67e18cb" x="317.313756" y="150.805118" style="fill: #ef4b42; fill-opacity: 0.8; stroke: #ef4b42; stroke-opacity: 0.8; stroke-width: 0.792"/> <use href="#m4eb67e18cb" x="319.142861" y="150.619928" style="fill: #ef4b42; fill-opacity: 0.8; stroke: #ef4b42; stroke-opacity: 0.8; stroke-width: 0.792"/> <use href="#m4eb67e18cb" x="320.484205" y="151.052226" style="fill: #ef4b42; fill-opacity: 0.8; stroke: #ef4b42; stroke-opacity: 0.8; stroke-width: 0.792"/> <use href="#m4eb67e18cb" x="322.126975" y="150.447913" style="fill: #ef4b42; fill-opacity: 0.8; stroke: #ef4b42; stroke-opacity: 0.8; stroke-width: 0.792"/> <use href="#m4eb67e18cb" x="323.363102" y="150.672509" style="fill: #ef4b42; fill-opacity: 0.8; stroke: #ef4b42; stroke-opacity: 0.8; stroke-width: 0.792"/> <use href="#m4eb67e18cb" x="325.035444" y="150.801766" style="fill: #ef4b42; fill-opacity: 0.8; stroke: #ef4b42; stroke-opacity: 0.8; stroke-width: 0.792"/> <use href="#m4eb67e18cb" x="326.398815" y="150.667137" style="fill: #ef4b42; fill-opacity: 0.8; stroke: #ef4b42; stroke-opacity: 0.8; stroke-width: 0.792"/> <use href="#m4eb67e18cb" x="328.228022" y="151.059324" style="fill: #ef4b42; fill-opacity: 0.8; stroke: #ef4b42; stroke-opacity: 0.8; stroke-width: 0.792"/> <use href="#m4eb67e18cb" x="329.583196" y="150.141873" style="fill: #ef4b42; fill-opacity: 0.8; stroke: #ef4b42; stroke-opacity: 0.8; stroke-width: 0.792"/> <use href="#m4eb67e18cb" x="330.961376" y="151.542968" style="fill: #ef4b42; fill-opacity: 0.8; stroke: #ef4b42; stroke-opacity: 0.8; stroke-width: 0.792"/> <use href="#m4eb67e18cb" x="332.484432" y="150.76654" style="fill: #ef4b42; fill-opacity: 0.8; stroke: #ef4b42; stroke-opacity: 0.8; stroke-width: 0.792"/> <use href="#m4eb67e18cb" x="334.178369" y="150.802136" style="fill: #ef4b42; fill-opacity: 0.8; stroke: #ef4b42; stroke-opacity: 0.8; stroke-width: 0.792"/> <use href="#m4eb67e18cb" x="335.524218" y="150.764662" style="fill: #ef4b42; fill-opacity: 0.8; stroke: #ef4b42; stroke-opacity: 0.8; stroke-width: 0.792"/> <use href="#m4eb67e18cb" x="337.084981" y="150.720287" style="fill: #ef4b42; fill-opacity: 0.8; stroke: #ef4b42; stroke-opacity: 0.8; stroke-width: 0.792"/> <use href="#m4eb67e18cb" x="338.700046" y="151.1109" style="fill: #ef4b42; fill-opacity: 0.8; stroke: #ef4b42; stroke-opacity: 0.8; stroke-width: 0.792"/> <use href="#m4eb67e18cb" x="340.243216" y="150.986418" style="fill: #ef4b42; fill-opacity: 0.8; stroke: #ef4b42; stroke-opacity: 0.8; stroke-width: 0.792"/> </g> </g> <g id="patch_3"> <path d="M 27.072 153.432  L 27.072 37.008  " style="fill: none; stroke: #000000; stroke-width: 1.296; stroke-linejoin: miter; stroke-linecap: square"/> </g> <g id="patch_4"> <path d="M 340.488 153.432  L 340.488 37.008  " style="fill: none; stroke: #000000; stroke-width: 1.296; stroke-linejoin: miter; stroke-linecap: square"/> </g> <g id="patch_5"> <path d="M 27.072 153.432  L 340.488 153.432  " style="fill: none; stroke: #000000; stroke-width: 1.296; stroke-linejoin: miter; stroke-linecap: square"/> </g> <g id="patch_6"> <path d="M 27.072 37.008  L 340.488 37.008  " style="fill: none; stroke: #000000; stroke-width: 1.296; stroke-linejoin: miter; stroke-linecap: square"/> </g> </g> <g id="axes_2"> <g id="patch_7"> <path d="M 27.144 282.744  L 167.904 282.744  L 167.904 166.464  L 27.144 166.464  z " style="fill: #ffffff"/> </g> <g id="matplotlib.axis_3"> <g id="xtick_22"> <g id="line2d_68"> <g> <use href="#mc10e1f5a09" x="53.712" y="282.744" style="stroke: #000000; stroke-width: 1.296"/> </g> </g> <g id="text_8"> <g transform="translate(41.3568 299.504206)"> <text> <tspan x="0" y="-0.498438" style="font-size: 14.04px; font-family: 'DejaVu Sans', 'Liberation Sans', sans-serif">1</tspan> <tspan x="8.907227" y="-0.498438" style="font-size: 14.04px; font-family: 'DejaVu Sans', 'Liberation Sans', sans-serif">0</tspan> <tspan x="17.948438" y="-5.857813" style="font-size: 9.828px; font-family: 'DejaVu Sans', 'Liberation Sans', sans-serif">1</tspan> </text> </g> </g> </g> <g id="xtick_23"> <g id="line2d_69"> <g> <use href="#mc10e1f5a09" x="106.344" y="282.744" style="stroke: #000000; stroke-width: 1.296"/> </g> </g> <g id="text_9"> <g transform="translate(93.9888 299.504206)"> <text> <tspan x="0" y="-0.367188" style="font-size: 14.04px; font-family: 'DejaVu Sans', 'Liberation Sans', sans-serif">1</tspan> <tspan x="8.907227" y="-0.367188" style="font-size: 14.04px; font-family: 'DejaVu Sans', 'Liberation Sans', sans-serif">0</tspan> <tspan x="17.948438" y="-5.726562" style="font-size: 9.828px; font-family: 'DejaVu Sans', 'Liberation Sans', sans-serif">2</tspan> </text> </g> </g> </g> <g id="xtick_24"> <g id="line2d_70"> <g> <use href="#mc10e1f5a09" x="158.976" y="282.744" style="stroke: #000000; stroke-width: 1.296"/> </g> </g> <g id="text_10"> <g transform="translate(146.6208 299.504206)"> <text> <tspan x="0" y="-0.367188" style="font-size: 14.04px; font-family: 'DejaVu Sans', 'Liberation Sans', sans-serif">1</tspan> <tspan x="8.907227" y="-0.367188" style="font-size: 14.04px; font-family: 'DejaVu Sans', 'Liberation Sans', sans-serif">0</tspan> <tspan x="17.948438" y="-5.726562" style="font-size: 9.828px; font-family: 'DejaVu Sans', 'Liberation Sans', sans-serif">3</tspan> </text> </g> </g> </g> <g id="xtick_25"> <g id="line2d_71"> <g> <use href="#m43085beaf9" x="32.767621" y="282.744" style="stroke: #000000; stroke-width: 1.296"/> </g> </g> </g> <g id="xtick_26"> <g id="line2d_72"> <g> <use href="#m43085beaf9" x="37.868189" y="282.744" style="stroke: #000000; stroke-width: 1.296"/> </g> </g> </g> <g id="xtick_27"> <g id="line2d_73"> <g> <use href="#m43085beaf9" x="42.035657" y="282.744" style="stroke: #000000; stroke-width: 1.296"/> </g> </g> </g> <g id="xtick_28"> <g id="line2d_74"> <g> <use href="#m43085beaf9" x="45.5592" y="282.744" style="stroke: #000000; stroke-width: 1.296"/> </g> </g> </g> <g id="xtick_29"> <g id="line2d_75"> <g> <use href="#m43085beaf9" x="48.611432" y="282.744" style="stroke: #000000; stroke-width: 1.296"/> </g> </g> </g> <g id="xtick_30"> <g id="line2d_76"> <g> <use href="#m43085beaf9" x="51.303692" y="282.744" style="stroke: #000000; stroke-width: 1.296"/> </g> </g> </g> <g id="xtick_31"> <g id="line2d_77"> <g> <use href="#m43085beaf9" x="69.555811" y="282.744" style="stroke: #000000; stroke-width: 1.296"/> </g> </g> </g> <g id="xtick_32"> <g id="line2d_78"> <g> <use href="#m43085beaf9" x="78.823846" y="282.744" style="stroke: #000000; stroke-width: 1.296"/> </g> </g> </g> <g id="xtick_33"> <g id="line2d_79"> <g> <use href="#m43085beaf9" x="85.399621" y="282.744" style="stroke: #000000; stroke-width: 1.296"/> </g> </g> </g> <g id="xtick_34"> <g id="line2d_80"> <g> <use href="#m43085beaf9" x="90.500189" y="282.744" style="stroke: #000000; stroke-width: 1.296"/> </g> </g> </g> <g id="xtick_35"> <g id="line2d_81"> <g> <use href="#m43085beaf9" x="94.667657" y="282.744" style="stroke: #000000; stroke-width: 1.296"/> </g> </g> </g> <g id="xtick_36"> <g id="line2d_82"> <g> <use href="#m43085beaf9" x="98.1912" y="282.744" style="stroke: #000000; stroke-width: 1.296"/> </g> </g> </g> <g id="xtick_37"> <g id="line2d_83"> <g> <use href="#m43085beaf9" x="101.243432" y="282.744" style="stroke: #000000; stroke-width: 1.296"/> </g> </g> </g> <g id="xtick_38"> <g id="line2d_84"> <g> <use href="#m43085beaf9" x="103.935692" y="282.744" style="stroke: #000000; stroke-width: 1.296"/> </g> </g> </g> <g id="xtick_39"> <g id="line2d_85"> <g> <use href="#m43085beaf9" x="122.187811" y="282.744" style="stroke: #000000; stroke-width: 1.296"/> </g> </g> </g> <g id="xtick_40"> <g id="line2d_86"> <g> <use href="#m43085beaf9" x="131.455846" y="282.744" style="stroke: #000000; stroke-width: 1.296"/> </g> </g> </g> <g id="xtick_41"> <g id="line2d_87"> <g> <use href="#m43085beaf9" x="138.031621" y="282.744" style="stroke: #000000; stroke-width: 1.296"/> </g> </g> </g> <g id="xtick_42"> <g id="line2d_88"> <g> <use href="#m43085beaf9" x="143.132189" y="282.744" style="stroke: #000000; stroke-width: 1.296"/> </g> </g> </g> <g id="xtick_43"> <g id="line2d_89"> <g> <use href="#m43085beaf9" x="147.299657" y="282.744" style="stroke: #000000; stroke-width: 1.296"/> </g> </g> </g> <g id="xtick_44"> <g id="line2d_90"> <g> <use href="#m43085beaf9" x="150.8232" y="282.744" style="stroke: #000000; stroke-width: 1.296"/> </g> </g> </g> <g id="xtick_45"> <g id="line2d_91"> <g> <use href="#m43085beaf9" x="153.875432" y="282.744" style="stroke: #000000; stroke-width: 1.296"/> </g> </g> </g> <g id="xtick_46"> <g id="line2d_92"> <g> <use href="#m43085beaf9" x="156.567692" y="282.744" style="stroke: #000000; stroke-width: 1.296"/> </g> </g> </g> </g> <g id="matplotlib.axis_4"/> <g id="line2d_93"> <path d="M 25.704 281.232  L 37.44 281.232  L 39.168 268.848  L 41.256 281.232  L 96.12 281.232  L 98.064 202.68  L 100.512 281.232  L 113.256 281.232  L 114.84 233.784  L 116.712 281.232  L 169.344 281.232  " clip-path="url(#pf7191d3151)" style="fill: none; stroke: #ef4b42; stroke-opacity: 0.95; stroke-width: 1.872; stroke-linejoin: miter; stroke-linecap: square"/> </g> <g id="patch_8"> <path d="M 27.144 282.744  L 27.144 166.464  " style="fill: none; stroke: #000000; stroke-width: 1.296; stroke-linejoin: miter; stroke-linecap: square"/> </g> <g id="patch_9"> <path d="M 167.904 282.744  L 167.904 166.464  " style="fill: none; stroke: #000000; stroke-width: 1.296; stroke-linejoin: miter; stroke-linecap: square"/> </g> <g id="patch_10"> <path d="M 27.144 282.744  L 167.904 282.744  " style="fill: none; stroke: #000000; stroke-width: 1.296; stroke-linejoin: miter; stroke-linecap: square"/> </g> <g id="patch_11"> <path d="M 27.144 166.464  L 167.904 166.464  " style="fill: none; stroke: #000000; stroke-width: 1.296; stroke-linejoin: miter; stroke-linecap: square"/> </g> </g> <g id="axes_3"> <g id="patch_12"> <path d="M 199.296 282.744  L 340.056 282.744  L 340.056 166.464  L 199.296 166.464  z " style="fill: #ffffff"/> </g> <g id="matplotlib.axis_5"> <g id="xtick_47"> <g id="line2d_94"> <g> <use href="#mc10e1f5a09" x="214.016082" y="282.744" style="stroke: #000000; stroke-width: 1.296"/> </g> </g> <g id="text_11"> <g transform="translate(198.213882 299.288206)"> <text> <tspan x="0" y="-0.498438" style="font-size: 14.04px; font-family: 'DejaVu Sans', 'Liberation Sans', sans-serif">1</tspan> <tspan x="8.907227" y="-0.498438" style="font-size: 14.04px; font-family: 'DejaVu Sans', 'Liberation Sans', sans-serif">0</tspan> <tspan x="17.948438" y="-5.857813" style="font-size: 9.828px; font-family: 'DejaVu Sans', 'Liberation Sans', sans-serif">1</tspan> <tspan x="24.183496" y="-5.857813" style="font-size: 9.828px; font-family: 'DejaVu Sans', 'Liberation Sans', sans-serif">4</tspan> </text> </g> </g> </g> <g id="xtick_48"> <g id="line2d_95"> <g> <use href="#mc10e1f5a09" x="270.320082" y="282.744" style="stroke: #000000; stroke-width: 1.296"/> </g> </g> <g id="text_12"> <g transform="translate(254.517882 299.288206)"> <text> <tspan x="0" y="-0.367188" style="font-size: 14.04px; font-family: 'DejaVu Sans', 'Liberation Sans', sans-serif">1</tspan> <tspan x="8.907227" y="-0.367188" style="font-size: 14.04px; font-family: 'DejaVu Sans', 'Liberation Sans', sans-serif">0</tspan> <tspan x="17.948438" y="-5.726562" style="font-size: 9.828px; font-family: 'DejaVu Sans', 'Liberation Sans', sans-serif">1</tspan> <tspan x="24.183496" y="-5.726562" style="font-size: 9.828px; font-family: 'DejaVu Sans', 'Liberation Sans', sans-serif">6</tspan> </text> </g> </g> </g> <g id="xtick_49"> <g id="line2d_96"> <g> <use href="#mc10e1f5a09" x="326.624082" y="282.744" style="stroke: #000000; stroke-width: 1.296"/> </g> </g> <g id="text_13"> <g transform="translate(310.821882 299.288206)"> <text> <tspan x="0" y="-0.367188" style="font-size: 14.04px; font-family: 'DejaVu Sans', 'Liberation Sans', sans-serif">1</tspan> <tspan x="8.907227" y="-0.367188" style="font-size: 14.04px; font-family: 'DejaVu Sans', 'Liberation Sans', sans-serif">0</tspan> <tspan x="17.948438" y="-5.726562" style="font-size: 9.828px; font-family: 'DejaVu Sans', 'Liberation Sans', sans-serif">1</tspan> <tspan x="24.183496" y="-5.726562" style="font-size: 9.828px; font-family: 'DejaVu Sans', 'Liberation Sans', sans-serif">8</tspan> </text> </g> </g> </g> </g> <g id="matplotlib.axis_6"> <g id="ytick_13"> <g id="line2d_97"> <g> <use href="#m3e80957352" x="340.056" y="270.583932" style="stroke: #000000; stroke-width: 1.296"/> </g> </g> <g id="text_14"> <g transform="translate(343.556 276.638035)"> <text> <tspan x="0" y="-0.498438" style="font-size: 14.04px; font-family: 'DejaVu Sans', 'Liberation Sans', sans-serif">1</tspan> <tspan x="8.907227" y="-0.498438" style="font-size: 14.04px; font-family: 'DejaVu Sans', 'Liberation Sans', sans-serif">0</tspan> <tspan x="17.948438" y="-5.857813" style="font-size: 9.828px; font-family: 'DejaVu Sans', 'Liberation Sans', sans-serif">1</tspan> <tspan x="24.183496" y="-5.857813" style="font-size: 9.828px; font-family: 'DejaVu Sans', 'Liberation Sans', sans-serif">4</tspan> </text> </g> </g> </g> <g id="ytick_14"> <g id="line2d_98"> <g> <use href="#m3e80957352" x="340.056" y="224.071932" style="stroke: #000000; stroke-width: 1.296"/> </g> </g> <g id="text_15"> <g transform="translate(343.556 230.126035)"> <text> <tspan x="0" y="-0.367188" style="font-size: 14.04px; font-family: 'DejaVu Sans', 'Liberation Sans', sans-serif">1</tspan> <tspan x="8.907227" y="-0.367188" style="font-size: 14.04px; font-family: 'DejaVu Sans', 'Liberation Sans', sans-serif">0</tspan> <tspan x="17.948438" y="-5.726562" style="font-size: 9.828px; font-family: 'DejaVu Sans', 'Liberation Sans', sans-serif">1</tspan> <tspan x="24.183496" y="-5.726562" style="font-size: 9.828px; font-family: 'DejaVu Sans', 'Liberation Sans', sans-serif">6</tspan> </text> </g> </g> </g> <g id="ytick_15"> <g id="line2d_99"> <g> <use href="#m3e80957352" x="340.056" y="177.559932" style="stroke: #000000; stroke-width: 1.296"/> </g> </g> <g id="text_16"> <g transform="translate(343.556 183.614035)"> <text> <tspan x="0" y="-0.367188" style="font-size: 14.04px; font-family: 'DejaVu Sans', 'Liberation Sans', sans-serif">1</tspan> <tspan x="8.907227" y="-0.367188" style="font-size: 14.04px; font-family: 'DejaVu Sans', 'Liberation Sans', sans-serif">0</tspan> <tspan x="17.948438" y="-5.726562" style="font-size: 9.828px; font-family: 'DejaVu Sans', 'Liberation Sans', sans-serif">1</tspan> <tspan x="24.183496" y="-5.726562" style="font-size: 9.828px; font-family: 'DejaVu Sans', 'Liberation Sans', sans-serif">8</tspan> </text> </g> </g> </g> </g> <g id="line2d_100"> <defs> <path id="m1b239f8829" d="M -2.232 2.232  L 2.232 -2.232  M -2.232 -2.232  L 2.232 2.232  " style="stroke: #ef4b42; stroke-width: 1.872"/> </defs> <g clip-path="url(#p4f3d057cbe)"> <use href="#m1b239f8829" x="260.185362" y="230.118492" style="fill: #ef4b42; stroke: #ef4b42; stroke-width: 1.872"/> <use href="#m1b239f8829" x="262.719042" y="232.444092" style="fill: #ef4b42; stroke: #ef4b42; stroke-width: 1.872"/> <use href="#m1b239f8829" x="270.038562" y="222.676572" style="fill: #ef4b42; stroke: #ef4b42; stroke-width: 1.872"/> <use href="#m1b239f8829" x="277.498842" y="222.327732" style="fill: #ef4b42; stroke: #ef4b42; stroke-width: 1.872"/> <use href="#m1b239f8829" x="287.915082" y="202.908972" style="fill: #ef4b42; stroke: #ef4b42; stroke-width: 1.872"/> <use href="#m1b239f8829" x="291.152562" y="207.792732" style="fill: #ef4b42; stroke: #ef4b42; stroke-width: 1.872"/> </g> </g> <g id="line2d_101"> <defs> <path id="md4c02c06e1" d="M -2.232 2.232  L 2.232 -2.232  M -2.232 -2.232  L 2.232 2.232  " style="stroke: #1f7fc6; stroke-width: 1.872"/> </defs> <g clip-path="url(#p4f3d057cbe)"> <use href="#md4c02c06e1" x="288.844098" y="220.53702" style="fill: #1f7fc6; stroke: #1f7fc6; stroke-width: 1.872"/> <use href="#md4c02c06e1" x="289.829418" y="226.862652" style="fill: #1f7fc6; stroke: #1f7fc6; stroke-width: 1.872"/> <use href="#md4c02c06e1" x="295.685034" y="225.862644" style="fill: #1f7fc6; stroke: #1f7fc6; stroke-width: 1.872"/> <use href="#md4c02c06e1" x="311.140482" y="204.653172" style="fill: #1f7fc6; stroke: #1f7fc6; stroke-width: 1.872"/> <use href="#md4c02c06e1" x="318.657066" y="204.304332" style="fill: #1f7fc6; stroke: #1f7fc6; stroke-width: 1.872"/> <use href="#md4c02c06e1" x="241.99917" y="270.583932" style="fill: #1f7fc6; stroke: #1f7fc6; stroke-width: 1.872"/> <use href="#md4c02c06e1" x="241.99917" y="275.235132" style="fill: #1f7fc6; stroke: #1f7fc6; stroke-width: 1.872"/> </g> </g> <g id="patch_13"> <path d="M 199.296 282.744  L 199.296 166.464  " style="fill: none; stroke: #000000; stroke-width: 1.296; stroke-linejoin: miter; stroke-linecap: square"/> </g> <g id="patch_14"> <path d="M 340.056 282.744  L 340.056 166.464  " style="fill: none; stroke: #000000; stroke-width: 1.296; stroke-linejoin: miter; stroke-linecap: square"/> </g> <g id="patch_15"> <path d="M 199.296 282.744  L 340.056 282.744  " style="fill: none; stroke: #000000; stroke-width: 1.296; stroke-linejoin: miter; stroke-linecap: square"/> </g> <g id="patch_16"> <path d="M 199.296 166.464  L 340.056 166.464  " style="fill: none; stroke: #000000; stroke-width: 1.296; stroke-linejoin: miter; stroke-linecap: square"/> </g> <g id="line2d_102"> <path d="M 199.296 282.744  L 340.056 166.464  " clip-path="url(#p4f3d057cbe)" style="fill: none; stroke: #000000; stroke-width: 1.296"/> </g> <g id="line2d_103"> <path d="M 199.296 301.904822  L 340.056 185.624822  " clip-path="url(#p4f3d057cbe)" style="fill: none; stroke-dasharray: 5.184,2.592; stroke-dashoffset: 0; stroke: #000000; stroke-width: 1.296"/> </g> </g> <g id="t_temp"> <text style="font-size: 14.04px; font-family: 'DejaVu Sans', 'Liberation Sans', sans-serif; text-anchor: middle" x="184.176" y="11.736" transform="rotate(-0 184.176 11.736)">T<tspan dx="-2.376">emperature (K)</tspan></text> </g> <g id="t_ylabA"> <g transform="translate(14.904 158.1498) rotate(-90)"> <text> <tspan x="0" y="-0.446562" style="font-size: 14.04px; font-family: 'DejaVu Sans', 'Liberation Sans', sans-serif">2</tspan> <tspan x="43.349492" y="-0.446562" style="font-size: 14.04px; font-family: 'DejaVu Sans', 'Liberation Sans', sans-serif"> </tspan> <tspan x="47.799687" y="-0.446562" style="font-size: 14.04px; font-family: 'DejaVu Sans', 'Liberation Sans', sans-serif">(</tspan> <tspan x="53.261602" y="-0.446562" style="font-size: 14.04px; font-family: 'DejaVu Sans', 'Liberation Sans', sans-serif">1</tspan> <tspan x="62.168828" y="-0.446562" style="font-size: 14.04px; font-family: 'DejaVu Sans', 'Liberation Sans', sans-serif">0</tspan> <tspan x="84.062969" y="-0.446562" style="font-size: 14.04px; font-family: 'DejaVu Sans', 'Liberation Sans', sans-serif">c</tspan> <tspan x="91.760234" y="-0.446562" style="font-size: 14.04px; font-family: 'DejaVu Sans', 'Liberation Sans', sans-serif">m</tspan> <tspan x="120.361113" y="-0.446562" style="font-size: 14.04px; font-family: 'DejaVu Sans', 'Liberation Sans', sans-serif">)</tspan> <tspan x="8.907227" y="-6.726563" style="font-size: 9.828px; font-family: 'DejaVu Sans', 'Liberation Sans', sans-serif">Δ</tspan> <tspan x="35.420488" y="1.850313" style="font-size: 9.828px; font-family: 'DejaVu Sans', 'Liberation Sans', sans-serif">D</tspan> <tspan x="71.210039" y="-5.805937" style="font-size: 9.828px; font-family: 'DejaVu Sans', 'Liberation Sans', sans-serif">1</tspan> <tspan x="77.445098" y="-5.805937" style="font-size: 9.828px; font-family: 'DejaVu Sans', 'Liberation Sans', sans-serif">6</tspan> <tspan x="105.531914" y="-5.805937" style="font-size: 9.828px; font-family: 'DejaVu Sans', 'Liberation Sans', sans-serif">−</tspan> <tspan x="113.743242" y="-5.805937" style="font-size: 9.828px; font-family: 'DejaVu Sans', 'Liberation Sans', sans-serif">3</tspan> <tspan x="8.907227" y="5.076562" style="font-style: oblique; font-size: 9.828px; font-family: 'DejaVu Sans', 'Liberation Sans', sans-serif">C</tspan> <tspan x="15.61123" y="-6.726563" style="font-style: oblique; font-size: 9.828px; font-family: 'DejaVu Sans', 'Liberation Sans', sans-serif">C</tspan> <tspan x="15.75" y="6.684375" style="font-size: 6.8796px; font-family: 'DejaVu Sans', 'Liberation Sans', sans-serif">r</tspan> <tspan x="18.570371" y="6.684375" style="font-size: 6.8796px; font-family: 'DejaVu Sans', 'Liberation Sans', sans-serif">b</tspan> <tspan x="24.947832" y="-0.446562" style="font-style: oblique; font-size: 14.04px; font-family: 'DejaVu Sans', 'Liberation Sans', sans-serif">N</tspan> </text> <rect x="8.907227" y="-4.074375" width="14.285605" height="0.8775"/> </g> </g> <g id="t_efg"> <text style="font-size: 12.672px; font-family: 'DejaVu Sans', 'Liberation Sans', sans-serif; text-anchor: start" x="39.24" y="56.16" transform="rotate(-0 39.24 56.16)">EFG (-201)</text> </g> <g id="t_dlts"> <text style="font-size: 12.672px; font-family: 'DejaVu Sans', 'Liberation Sans', sans-serif; text-anchor: start; fill: #ea5058; stroke: #ea5058" x="39.24" y="71.928" transform="rotate(-0 39.24 71.928)">DLTS Ref.9</text> </g> <g id="t_a"> <text style="letter-spacing: 0.432px; font-size: 12.672px; font-family: 'DejaVu Sans', 'Liberation Sans', sans-serif; text-anchor: start" x="312.84" y="55.08" transform="rotate(-0 312.84 55.08)">(a)</text> </g> <g id="t_E2a_a"> <g style="fill: #ea5058" transform="translate(89.28 118.296)"> <text> <tspan x="0" y="-0.515625" style="font-style: oblique; font-size: 12.672px; font-family: 'DejaVu Sans', 'Liberation Sans', sans-serif; fill: #ea5058; stroke: #ea5058">E</tspan> <tspan x="7.976929" y="1.617188" style="font-size: 8.8704px; font-family: 'DejaVu Sans', 'Liberation Sans', sans-serif; fill: #ea5058; stroke: #ea5058">2</tspan> <tspan x="13.599615" y="1.617188" style="font-size: 8.8704px; font-family: 'DejaVu Sans', 'Liberation Sans', sans-serif; fill: #ea5058; stroke: #ea5058">a</tspan> </text> </g> </g> <g id="t_E2b_a"> <g style="fill: #ea5058" transform="translate(151.92 52.776)"> <text> <tspan x="0" y="-0.515625" style="font-style: oblique; font-size: 12.672px; font-family: 'DejaVu Sans', 'Liberation Sans', sans-serif; fill: #ea5058; stroke: #ea5058">E</tspan> <tspan x="7.976929" y="1.617188" style="font-size: 8.8704px; font-family: 'DejaVu Sans', 'Liberation Sans', sans-serif; fill: #ea5058; stroke: #ea5058">2</tspan> <tspan x="13.599615" y="1.617188" style="font-size: 8.8704px; font-family: 'DejaVu Sans', 'Liberation Sans', sans-serif; fill: #ea5058; stroke: #ea5058">b</tspan> </text> </g> </g> <g id="t_E3_a"> <g style="fill: #1f7fc6" transform="translate(239.76 124.488)"> <text> <tspan x="0" y="-0.515625" style="font-style: oblique; font-size: 12.672px; font-family: 'DejaVu Sans', 'Liberation Sans', sans-serif; fill: #1f7fc6; stroke: #1f7fc6">E</tspan> <tspan x="7.976929" y="1.617188" style="font-size: 8.8704px; font-family: 'DejaVu Sans', 'Liberation Sans', sans-serif; fill: #1f7fc6; stroke: #1f7fc6">3</tspan> </text> </g> </g> <g id="t_xlabB"> <g transform="translate(70.6644 321.264)"> <text> <tspan x="0" y="-0.498438" style="font-style: oblique; font-size: 14.04px; font-family: 'DejaVu Sans', 'Liberation Sans', sans-serif">e</tspan> <tspan x="8.613281" y="1.798437" style="font-size: 9.828px; font-family: 'DejaVu Sans', 'Liberation Sans', sans-serif">n</tspan> <tspan x="32.547266" y="-5.857813" style="font-size: 9.828px; font-family: 'DejaVu Sans', 'Liberation Sans', sans-serif">−</tspan> <tspan x="40.758594" y="-5.857813" style="font-size: 9.828px; font-family: 'DejaVu Sans', 'Liberation Sans', sans-serif">1</tspan> <tspan x="15.207227" y="-0.498438" style="font-size: 14.04px; font-family: 'DejaVu Sans', 'Liberation Sans', sans-serif"> </tspan> <tspan x="19.657422" y="-0.498438" style="font-size: 14.04px; font-family: 'DejaVu Sans', 'Liberation Sans', sans-serif">(</tspan> <tspan x="25.119336" y="-0.498438" style="font-size: 14.04px; font-family: 'DejaVu Sans', 'Liberation Sans', sans-serif">s</tspan> <tspan x="47.376465" y="-0.498438" style="font-size: 14.04px; font-family: 'DejaVu Sans', 'Liberation Sans', sans-serif">)</tspan> </text> </g> </g> <g id="t_ylabB"> <text style="font-size: 14.04px; font-family: 'DejaVu Sans', 'Liberation Sans', sans-serif; text-anchor: middle" x="15.336" y="224.208" transform="rotate(-90 15.336 224.208)">Laplace signal</text> </g> <g id="t_b"> <text style="letter-spacing: 0.576px; font-size: 12.672px; font-family: 'DejaVu Sans', 'Liberation Sans', sans-serif; text-anchor: start" x="30.24" y="181.584" transform="rotate(-0 30.24 181.584)">(b)</text> </g> <g id="t_T400"> <g transform="translate(109.08 180.864)"> <text> <tspan x="0" y="-0.34375" style="font-style: oblique; font-size: 12.672px; font-family: 'DejaVu Sans', 'Liberation Sans', sans-serif">T</tspan> <tspan x="7.711853" y="-0.34375" style="font-size: 12.672px; font-family: 'DejaVu Sans', 'Liberation Sans', sans-serif">=</tspan> <tspan x="18.290222" y="-0.34375" style="font-size: 12.672px; font-family: 'DejaVu Sans', 'Liberation Sans', sans-serif">4</tspan> <tspan x="26.322632" y="-0.34375" style="font-size: 12.672px; font-family: 'DejaVu Sans', 'Liberation Sans', sans-serif">0</tspan> <tspan x="34.355042" y="-0.34375" style="font-size: 12.672px; font-family: 'DejaVu Sans', 'Liberation Sans', sans-serif">0</tspan> <tspan x="42.387451" y="-0.34375" style="font-size: 12.672px; font-family: 'DejaVu Sans', 'Liberation Sans', sans-serif"> </tspan> <tspan x="46.400574" y="-0.34375" style="font-size: 12.672px; font-family: 'DejaVu Sans', 'Liberation Sans', sans-serif">K</tspan> </text> </g> </g> <g id="t_lap"> <text style="font-size: 12.672px; font-family: 'DejaVu Sans', 'Liberation Sans', sans-serif; text-anchor: start; fill: #ea5058; stroke: #ea5058" x="31.824" y="199.008" transform="rotate(-0 31.824 199.008)">Laplace</text> </g> <g id="t_ref9"> <text style="font-size: 12.672px; font-family: 'DejaVu Sans', 'Liberation Sans', sans-serif; text-anchor: start; fill: #ea5058; stroke: #ea5058" x="31.824" y="214.2" transform="rotate(-0 31.824 214.2)">Ref.9</text> </g> <g id="t_E3_b"> <g style="fill: #1f7fc6" transform="translate(34.56 262.152)"> <text> <tspan x="0" y="-0.515625" style="font-style: oblique; font-size: 12.672px; font-family: 'DejaVu Sans', 'Liberation Sans', sans-serif; fill: #1f7fc6; stroke: #1f7fc6">E</tspan> <tspan x="7.976929" y="1.617188" style="font-size: 8.8704px; font-family: 'DejaVu Sans', 'Liberation Sans', sans-serif; fill: #1f7fc6; stroke: #1f7fc6">3</tspan> </text> </g> </g> <g id="t_E2b_b"> <g style="fill: #ea5058" transform="translate(91.44 196.776)"> <text> <tspan x="0" y="-0.515625" style="font-style: oblique; font-size: 12.672px; font-family: 'DejaVu Sans', 'Liberation Sans', sans-serif; fill: #ea5058; stroke: #ea5058">E</tspan> <tspan x="7.976929" y="1.617188" style="font-size: 8.8704px; font-family: 'DejaVu Sans', 'Liberation Sans', sans-serif; fill: #ea5058; stroke: #ea5058">2</tspan> <tspan x="13.599615" y="1.617188" style="font-size: 8.8704px; font-family: 'DejaVu Sans', 'Liberation Sans', sans-serif; fill: #ea5058; stroke: #ea5058">b</tspan> </text> </g> </g> <g id="t_E2a_b"> <g style="fill: #ea5058" transform="translate(109.44 227.808)"> <text> <tspan x="0" y="-0.515625" style="font-style: oblique; font-size: 12.672px; font-family: 'DejaVu Sans', 'Liberation Sans', sans-serif; fill: #ea5058; stroke: #ea5058">E</tspan> <tspan x="7.976929" y="1.617188" style="font-size: 8.8704px; font-family: 'DejaVu Sans', 'Liberation Sans', sans-serif; fill: #ea5058; stroke: #ea5058">2</tspan> <tspan x="13.599615" y="1.617188" style="font-size: 8.8704px; font-family: 'DejaVu Sans', 'Liberation Sans', sans-serif; fill: #ea5058; stroke: #ea5058">a</tspan> </text> </g> </g> <g id="t_xlabC"> <g transform="translate(180.7938 322.344)"> <text> <tspan x="0.000000" y="-0.367188" style="font-size: 14.04px; font-family: 'DejaVu Sans', 'Liberation Sans', sans-serif">T</tspan> <tspan x="6.823758" y="-0.367188" style="font-size: 14.04px; font-family: 'DejaVu Sans', 'Liberation Sans', sans-serif">r</tspan> <tspan x="12.579617" y="-0.367188" style="font-size: 14.04px; font-family: 'DejaVu Sans', 'Liberation Sans', sans-serif">a</tspan> <tspan x="21.158719" y="-0.367188" style="font-size: 14.04px; font-family: 'DejaVu Sans', 'Liberation Sans', sans-serif">p</tspan> <tspan x="30.045438" y="-0.367188" style="font-size: 14.04px; font-family: 'DejaVu Sans', 'Liberation Sans', sans-serif"> </tspan> <tspan x="34.495633" y="-0.367188" style="font-size: 14.04px; font-family: 'DejaVu Sans', 'Liberation Sans', sans-serif">c</tspan> <tspan x="42.192898" y="-0.367188" style="font-size: 14.04px; font-family: 'DejaVu Sans', 'Liberation Sans', sans-serif">o</tspan> <tspan x="50.758328" y="-0.367188" style="font-size: 14.04px; font-family: 'DejaVu Sans', 'Liberation Sans', sans-serif">n</tspan> <tspan x="59.631375" y="-0.367188" style="font-size: 14.04px; font-family: 'DejaVu Sans', 'Liberation Sans', sans-serif">c</tspan> <tspan x="67.328641" y="-0.367188" style="font-size: 14.04px; font-family: 'DejaVu Sans', 'Liberation Sans', sans-serif">e</tspan> <tspan x="75.941922" y="-0.367188" style="font-size: 14.04px; font-family: 'DejaVu Sans', 'Liberation Sans', sans-serif">n</tspan> <tspan x="84.814969" y="-0.367188" style="font-size: 14.04px; font-family: 'DejaVu Sans', 'Liberation Sans', sans-serif">t</tspan> <tspan x="90.304227" y="-0.367188" style="font-size: 14.04px; font-family: 'DejaVu Sans', 'Liberation Sans', sans-serif">r</tspan> <tspan x="96.060086" y="-0.367188" style="font-size: 14.04px; font-family: 'DejaVu Sans', 'Liberation Sans', sans-serif">a</tspan> <tspan x="104.639188" y="-0.367188" style="font-size: 14.04px; font-family: 'DejaVu Sans', 'Liberation Sans', sans-serif">t</tspan> <tspan x="110.128445" y="-0.367188" style="font-size: 14.04px; font-family: 'DejaVu Sans', 'Liberation Sans', sans-serif">i</tspan> <tspan x="114.018094" y="-0.367188" style="font-size: 14.04px; font-family: 'DejaVu Sans', 'Liberation Sans', sans-serif">o</tspan> <tspan x="122.583523" y="-0.367188" style="font-size: 14.04px; font-family: 'DejaVu Sans', 'Liberation Sans', sans-serif">n</tspan> <tspan x="131.456570" y="-0.367188" style="font-size: 14.04px; font-family: 'DejaVu Sans', 'Liberation Sans', sans-serif"> </tspan> <tspan x="135.906766" y="-0.367188" style="font-size: 14.04px; font-family: 'DejaVu Sans', 'Liberation Sans', sans-serif">(</tspan> <tspan x="141.368680" y="-0.367188" style="font-size: 14.04px; font-family: 'DejaVu Sans', 'Liberation Sans', sans-serif">c</tspan> <tspan x="149.065945" y="-0.367188" style="font-size: 14.04px; font-family: 'DejaVu Sans', 'Liberation Sans', sans-serif">m</tspan> <tspan x="177.666824" y="-0.367188" style="font-size: 14.04px; font-family: 'DejaVu Sans', 'Liberation Sans', sans-serif">)</tspan> <tspan x="162.837625" y="-5.726562" style="font-size: 9.828px; font-family: 'DejaVu Sans', 'Liberation Sans', sans-serif">−</tspan> <tspan x="171.048953" y="-5.726562" style="font-size: 9.828px; font-family: 'DejaVu Sans', 'Liberation Sans', sans-serif">3</tspan> </text> </g> </g> <g id="t_ylabC"> <g transform="translate(188.64 285.4998) rotate(-90)"> <text> <tspan x="0" y="-0.367188" style="font-size: 14.04px; font-family: 'DejaVu Sans', 'Liberation Sans', sans-serif">I</tspan> <tspan x="3.628906" y="-0.367188" style="font-size: 14.04px; font-family: 'DejaVu Sans', 'Liberation Sans', sans-serif">m</tspan> <tspan x="17.266602" y="-0.367188" style="font-size: 14.04px; font-family: 'DejaVu Sans', 'Liberation Sans', sans-serif">p</tspan> <tspan x="26.15332" y="-0.367188" style="font-size: 14.04px; font-family: 'DejaVu Sans', 'Liberation Sans', sans-serif">u</tspan> <tspan x="35.026367" y="-0.367188" style="font-size: 14.04px; font-family: 'DejaVu Sans', 'Liberation Sans', sans-serif">r</tspan> <tspan x="40.782227" y="-0.367188" style="font-size: 14.04px; font-family: 'DejaVu Sans', 'Liberation Sans', sans-serif">i</tspan> <tspan x="44.671875" y="-0.367188" style="font-size: 14.04px; font-family: 'DejaVu Sans', 'Liberation Sans', sans-serif">t</tspan> <tspan x="50.161133" y="-0.367188" style="font-size: 14.04px; font-family: 'DejaVu Sans', 'Liberation Sans', sans-serif">i</tspan> <tspan x="54.050781" y="-0.367188" style="font-size: 14.04px; font-family: 'DejaVu Sans', 'Liberation Sans', sans-serif">e</tspan> <tspan x="62.664062" y="-0.367188" style="font-size: 14.04px; font-family: 'DejaVu Sans', 'Liberation Sans', sans-serif">s</tspan> <tspan x="69.958008" y="-0.367188" style="font-size: 14.04px; font-family: 'DejaVu Sans', 'Liberation Sans', sans-serif"> </tspan> <tspan x="74.408203" y="-0.367188" style="font-size: 14.04px; font-family: 'DejaVu Sans', 'Liberation Sans', sans-serif">(</tspan> <tspan x="79.870117" y="-0.367188" style="font-size: 14.04px; font-family: 'DejaVu Sans', 'Liberation Sans', sans-serif">c</tspan> <tspan x="87.567383" y="-0.367188" style="font-size: 14.04px; font-family: 'DejaVu Sans', 'Liberation Sans', sans-serif">m</tspan> <tspan x="116.168262" y="-0.367188" style="font-size: 14.04px; font-family: 'DejaVu Sans', 'Liberation Sans', sans-serif">)</tspan> <tspan x="101.339062" y="-5.726562" style="font-size: 9.828px; font-family: 'DejaVu Sans', 'Liberation Sans', sans-serif">−</tspan> <tspan x="109.550391" y="-5.726562" style="font-size: 9.828px; font-family: 'DejaVu Sans', 'Liberation Sans', sans-serif">3</tspan> </text> </g> </g> <g id="t_c"> <text style="letter-spacing: 0.504px; font-size: 12.672px; font-family: 'DejaVu Sans', 'Liberation Sans', sans-serif; text-anchor: start" x="203.4" y="181.08" transform="rotate(-0 203.4 181.08)">(c)</text> </g> <g id="t_ti"> <g style="fill: #ea5058" transform="translate(236.952 231.696) rotate(-39.56)"> <text> <tspan x="0" y="-0.875" style="font-style: oblique; font-size: 12.168px; font-family: 'DejaVu Sans', 'Liberation Sans', sans-serif; fill: #ea5058; stroke: #ea5058">E</tspan> <tspan x="7.661011" y="1.09375" style="font-size: 8.5176px; font-family: 'DejaVu Sans', 'Liberation Sans', sans-serif; fill: #ea5058; stroke: #ea5058">3</tspan> <tspan x="13.389142" y="-0.875" style="font-size: 12.168px; font-family: 'DejaVu Sans', 'Liberation Sans', sans-serif; fill: #ea5058; stroke: #ea5058"> </tspan> <tspan x="17.243329" y="-0.875" style="font-size: 12.168px; font-family: 'DejaVu Sans', 'Liberation Sans', sans-serif; fill: #ea5058; stroke: #ea5058">T</tspan> <tspan x="24.649762" y="-0.875" style="font-size: 12.168px; font-family: 'DejaVu Sans', 'Liberation Sans', sans-serif; fill: #ea5058; stroke: #ea5058">i</tspan> <tspan x="28.018475" y="-0.875" style="font-size: 12.168px; font-family: 'DejaVu Sans', 'Liberation Sans', sans-serif; fill: #ea5058; stroke: #ea5058"> </tspan> <tspan x="31.872662" y="-0.875" style="font-size: 12.168px; font-family: 'DejaVu Sans', 'Liberation Sans', sans-serif; fill: #ea5058; stroke: #ea5058">R</tspan> <tspan x="40.297406" y="-0.875" style="font-size: 12.168px; font-family: 'DejaVu Sans', 'Liberation Sans', sans-serif; fill: #ea5058; stroke: #ea5058">e</tspan> <tspan x="47.757123" y="-0.875" style="font-size: 12.168px; font-family: 'DejaVu Sans', 'Liberation Sans', sans-serif; fill: #ea5058; stroke: #ea5058">f</tspan> <tspan x="52.025739" y="-0.875" style="font-size: 12.168px; font-family: 'DejaVu Sans', 'Liberation Sans', sans-serif; fill: #ea5058; stroke: #ea5058">.</tspan> <tspan x="55.879926" y="-0.875" style="font-size: 12.168px; font-family: 'DejaVu Sans', 'Liberation Sans', sans-serif; fill: #ea5058; stroke: #ea5058">9</tspan> </text> </g> </g> <g id="t_fe"> <g style="fill: #1f7fc6" transform="translate(275.832 272.952) rotate(-39.56)"> <text> <tspan x="0" y="-0.875" style="font-style: oblique; font-size: 12.168px; font-family: 'DejaVu Sans', 'Liberation Sans', sans-serif; fill: #1f7fc6; stroke: #1f7fc6">E</tspan> <tspan x="7.661011" y="1.09375" style="font-size: 8.5176px; font-family: 'DejaVu Sans', 'Liberation Sans', sans-serif; fill: #1f7fc6; stroke: #1f7fc6">2</tspan> <tspan x="13.389142" y="-0.875" style="font-size: 12.168px; font-family: 'DejaVu Sans', 'Liberation Sans', sans-serif; fill: #1f7fc6; stroke: #1f7fc6"> </tspan> <tspan x="17.243329" y="-0.875" style="font-size: 12.168px; font-family: 'DejaVu Sans', 'Liberation Sans', sans-serif; fill: #1f7fc6; stroke: #1f7fc6">F</tspan> <tspan x="24.217572" y="-0.875" style="font-size: 12.168px; font-family: 'DejaVu Sans', 'Liberation Sans', sans-serif; fill: #1f7fc6; stroke: #1f7fc6">e</tspan> <tspan x="31.677289" y="-0.875" style="font-size: 12.168px; font-family: 'DejaVu Sans', 'Liberation Sans', sans-serif; fill: #1f7fc6; stroke: #1f7fc6"> </tspan> <tspan x="35.531476" y="-0.875" style="font-size: 12.168px; font-family: 'DejaVu Sans', 'Liberation Sans', sans-serif; fill: #1f7fc6; stroke: #1f7fc6">R</tspan> <tspan x="43.956219" y="-0.875" style="font-size: 12.168px; font-family: 'DejaVu Sans', 'Liberation Sans', sans-serif; fill: #1f7fc6; stroke: #1f7fc6">e</tspan> <tspan x="51.415936" y="-0.875" style="font-size: 12.168px; font-family: 'DejaVu Sans', 'Liberation Sans', sans-serif; fill: #1f7fc6; stroke: #1f7fc6">f</tspan> <tspan x="55.684552" y="-0.875" style="font-size: 12.168px; font-family: 'DejaVu Sans', 'Liberation Sans', sans-serif; fill: #1f7fc6; stroke: #1f7fc6">.</tspan> <tspan x="59.163739" y="-0.875" style="font-size: 12.168px; font-family: 'DejaVu Sans', 'Liberation Sans', sans-serif; fill: #1f7fc6; stroke: #1f7fc6">8</tspan> </text> </g> </g> <g id="t_l11"> <text style="font-size: 8.64px; font-family: 'DejaVu Sans', 'Liberation Sans', sans-serif; text-anchor: start" x="227.736" y="254.016" transform="rotate(-39.56 227.736 254.016)">1:1</text> </g> <g id="t_l015"> <text style="font-size: 9.504px; font-family: 'DejaVu Sans', 'Liberation Sans', sans-serif; text-anchor: start" x="260.64" y="264.24" transform="rotate(-39.56 260.64 264.24)">0.15:1</text> </g> </g> <defs> <clipPath id="pd31f650294"> <rect x="27.072" y="37.008" width="313.416" height="116.424"/> </clipPath> <clipPath id="pf7191d3151"> <rect x="27.144" y="166.464" width="140.76" height="116.28"/> </clipPath> <clipPath id="p4f3d057cbe"> <rect x="199.296" y="166.464" width="140.76" height="116.28"/> </clipPath> </defs> </svg> 
</body></html>
